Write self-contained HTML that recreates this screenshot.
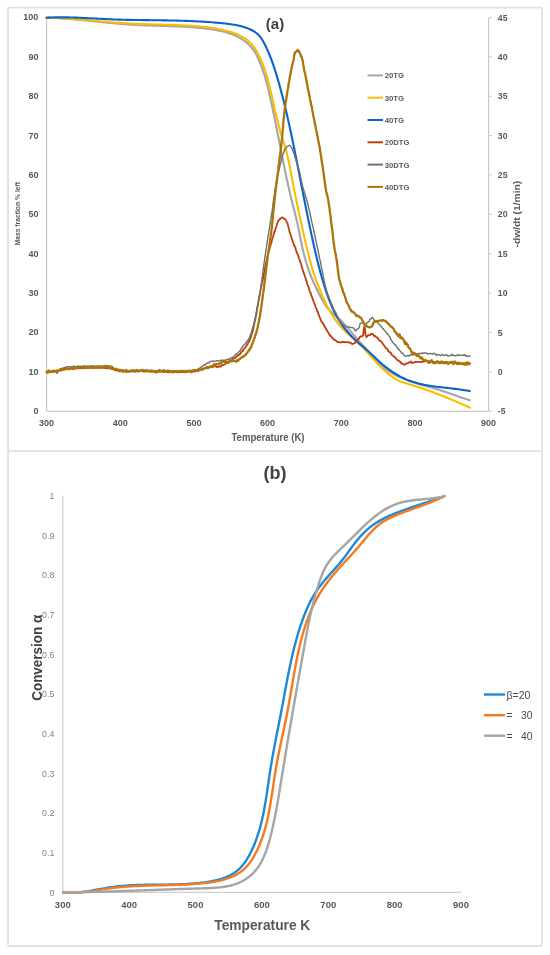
<!DOCTYPE html>
<html><head><meta charset="utf-8"><title>chart</title>
<style>
html,body{margin:0;padding:0;background:#fff;}
body{width:550px;height:955px;overflow:hidden;}
svg{display:block;}
text{font-family:'Liberation Sans', Arial, sans-serif;}
</style></head><body>
<svg width="550" height="955" viewBox="0 0 550 955">
<rect x="0" y="0" width="550" height="955" fill="#fff"/>

<rect x="8.1" y="7.6" width="533.9" height="443.4" rx="1.2" fill="none" stroke="#e2e2e2" stroke-width="1.8"/>
<rect x="8.1" y="451" width="533.9" height="495" rx="1.2" fill="none" stroke="#e2e2e2" stroke-width="1.8"/>
<line x1="46.6" y1="17.4" x2="46.6" y2="411.2" stroke="#c9c9c9" stroke-width="1.2"/>
<line x1="46.6" y1="411.4" x2="488.6" y2="411.4" stroke="#c9c9c9" stroke-width="1.2"/>
<line x1="488.6" y1="17.4" x2="488.6" y2="411.2" stroke="#c9c9c9" stroke-width="1.2"/>
<line x1="488.6" y1="17.4" x2="491.8" y2="17.4" stroke="#c9c9c9" stroke-width="1"/>
<line x1="488.6" y1="56.8" x2="491.8" y2="56.8" stroke="#c9c9c9" stroke-width="1"/>
<line x1="488.6" y1="96.2" x2="491.8" y2="96.2" stroke="#c9c9c9" stroke-width="1"/>
<line x1="488.6" y1="135.5" x2="491.8" y2="135.5" stroke="#c9c9c9" stroke-width="1"/>
<line x1="488.6" y1="174.9" x2="491.8" y2="174.9" stroke="#c9c9c9" stroke-width="1"/>
<line x1="488.6" y1="214.3" x2="491.8" y2="214.3" stroke="#c9c9c9" stroke-width="1"/>
<line x1="488.6" y1="253.7" x2="491.8" y2="253.7" stroke="#c9c9c9" stroke-width="1"/>
<line x1="488.6" y1="293.1" x2="491.8" y2="293.1" stroke="#c9c9c9" stroke-width="1"/>
<line x1="488.6" y1="332.4" x2="491.8" y2="332.4" stroke="#c9c9c9" stroke-width="1"/>
<line x1="488.6" y1="371.8" x2="491.8" y2="371.8" stroke="#c9c9c9" stroke-width="1"/>
<line x1="488.6" y1="411.2" x2="491.8" y2="411.2" stroke="#c9c9c9" stroke-width="1"/>
<text x="38.4" y="20.4" font-size="9" fill="#595959" text-anchor="end" font-weight="bold">100</text>
<text x="38.4" y="59.8" font-size="9" fill="#595959" text-anchor="end" font-weight="bold">90</text>
<text x="38.4" y="99.2" font-size="9" fill="#595959" text-anchor="end" font-weight="bold">80</text>
<text x="38.4" y="138.5" font-size="9" fill="#595959" text-anchor="end" font-weight="bold">70</text>
<text x="38.4" y="177.9" font-size="9" fill="#595959" text-anchor="end" font-weight="bold">60</text>
<text x="38.4" y="217.3" font-size="9" fill="#595959" text-anchor="end" font-weight="bold">50</text>
<text x="38.4" y="256.7" font-size="9" fill="#595959" text-anchor="end" font-weight="bold">40</text>
<text x="38.4" y="296.1" font-size="9" fill="#595959" text-anchor="end" font-weight="bold">30</text>
<text x="38.4" y="335.4" font-size="9" fill="#595959" text-anchor="end" font-weight="bold">20</text>
<text x="38.4" y="374.8" font-size="9" fill="#595959" text-anchor="end" font-weight="bold">10</text>
<text x="38.4" y="414.2" font-size="9" fill="#595959" text-anchor="end" font-weight="bold">0</text>
<text x="497.8" y="20.5" font-size="8.7" font-weight="bold" fill="#595959">45</text>
<text x="497.8" y="59.9" font-size="8.7" font-weight="bold" fill="#595959">40</text>
<text x="497.8" y="99.3" font-size="8.7" font-weight="bold" fill="#595959">35</text>
<text x="497.8" y="138.6" font-size="8.7" font-weight="bold" fill="#595959">30</text>
<text x="497.8" y="178.0" font-size="8.7" font-weight="bold" fill="#595959">25</text>
<text x="497.8" y="217.4" font-size="8.7" font-weight="bold" fill="#595959">20</text>
<text x="497.8" y="256.8" font-size="8.7" font-weight="bold" fill="#595959">15</text>
<text x="497.8" y="296.2" font-size="8.7" font-weight="bold" fill="#595959">10</text>
<text x="497.8" y="335.5" font-size="8.7" font-weight="bold" fill="#595959">5</text>
<text x="497.8" y="374.9" font-size="8.7" font-weight="bold" fill="#595959">0</text>
<text x="497.8" y="414.3" font-size="8.7" font-weight="bold" fill="#595959">-5</text>
<text x="46.6" y="425.9" font-size="9" font-weight="bold" fill="#595959" text-anchor="middle">300</text>
<text x="120.3" y="425.9" font-size="9" font-weight="bold" fill="#595959" text-anchor="middle">400</text>
<text x="193.9" y="425.9" font-size="9" font-weight="bold" fill="#595959" text-anchor="middle">500</text>
<text x="267.6" y="425.9" font-size="9" font-weight="bold" fill="#595959" text-anchor="middle">600</text>
<text x="341.3" y="425.9" font-size="9" font-weight="bold" fill="#595959" text-anchor="middle">700</text>
<text x="414.9" y="425.9" font-size="9" font-weight="bold" fill="#595959" text-anchor="middle">800</text>
<text x="488.6" y="425.9" font-size="9" font-weight="bold" fill="#595959" text-anchor="middle">900</text>
<text x="275" y="29" font-size="15" font-weight="bold" fill="#404040" text-anchor="middle">(a)</text>
<text x="268" y="441" font-size="10" font-weight="bold" fill="#595959" text-anchor="middle" textLength="73" lengthAdjust="spacingAndGlyphs">Temperature (K)</text>
<text transform="translate(19.9,213.7) rotate(-90)" font-size="6.6" font-weight="bold" fill="#595959" text-anchor="middle" textLength="63.5" lengthAdjust="spacingAndGlyphs">Mass fraction % left</text>
<text transform="translate(520.2,214.1) rotate(-90)" font-size="9.6" font-weight="bold" fill="#595959" text-anchor="middle" textLength="66.6" lengthAdjust="spacingAndGlyphs">-dw/dt (1/min)</text>
<g fill="none" stroke-linejoin="round" stroke-linecap="round">
<path d="M46.59,17.68 L48.24,17.72 L49.90,17.78 L51.55,17.84 L53.21,17.91 L54.86,17.99 L56.51,18.07 L58.16,18.17 L59.80,18.27 L61.45,18.37 L63.09,18.49 L64.74,18.61 L66.38,18.73 L68.02,18.86 L69.66,19.00 L71.31,19.14 L72.95,19.28 L74.59,19.43 L76.23,19.58 L77.86,19.74 L79.50,19.90 L81.14,20.06 L82.78,20.22 L84.42,20.38 L86.06,20.55 L87.70,20.72 L89.33,20.88 L90.97,21.05 L92.61,21.22 L94.25,21.39 L95.89,21.56 L97.54,21.72 L99.18,21.89 L100.82,22.05 L102.46,22.21 L104.11,22.37 L105.75,22.53 L107.39,22.69 L109.04,22.84 L110.68,23.00 L112.33,23.14 L113.98,23.29 L115.62,23.44 L117.27,23.58 L118.91,23.72 L120.56,23.85 L122.21,23.98 L123.86,24.11 L125.50,24.23 L127.15,24.35 L128.80,24.47 L130.44,24.58 L132.09,24.69 L133.74,24.79 L135.38,24.89 L137.03,24.98 L138.68,25.07 L140.32,25.16 L141.97,25.23 L143.62,25.31 L145.26,25.38 L146.91,25.44 L148.55,25.50 L150.20,25.56 L151.84,25.62 L153.49,25.67 L155.13,25.72 L156.77,25.77 L158.42,25.82 L160.06,25.86 L161.71,25.91 L163.35,25.96 L164.99,26.01 L166.64,26.06 L168.28,26.11 L169.93,26.16 L171.57,26.21 L173.21,26.27 L174.86,26.33 L176.50,26.39 L178.14,26.46 L179.79,26.53 L181.43,26.61 L183.08,26.69 L184.72,26.78 L186.37,26.87 L188.01,26.97 L189.66,27.08 L191.30,27.19 L192.95,27.31 L194.59,27.44 L196.24,27.58 L197.89,27.73 L199.53,27.89 L201.18,28.05 L202.83,28.23 L204.47,28.41 L206.12,28.61 L207.77,28.82 L209.42,29.04 L211.07,29.27 L212.72,29.52 L214.36,29.78 L216.01,30.06 L217.65,30.35 L219.29,30.67 L220.92,31.01 L222.54,31.38 L224.15,31.77 L225.75,32.19 L227.34,32.64 L228.91,33.13 L230.47,33.65 L232.02,34.21 L233.54,34.81 L235.04,35.44 L236.53,36.13 L237.99,36.85 L239.43,37.63 L240.84,38.45 L242.23,39.33 L243.59,40.25 L244.91,41.23 L246.21,42.26 L247.46,43.33 L248.67,44.45 L249.83,45.62 L250.95,46.83 L252.02,48.09 L253.03,49.39 L253.99,50.73 L254.89,52.12 L255.73,53.54 L256.51,54.99 L257.26,56.47 L257.97,57.96 L258.65,59.47 L259.31,60.98 L259.94,62.51 L260.56,64.04 L261.16,65.58 L261.74,67.12 L262.30,68.67 L262.84,70.23 L263.36,71.79 L263.87,73.36 L264.37,74.94 L264.85,76.51 L265.32,78.10 L265.77,79.69 L266.21,81.28 L266.64,82.87 L267.07,84.47 L267.48,86.07 L267.88,87.67 L268.27,89.28 L268.66,90.89 L269.04,92.49 L269.41,94.10 L269.78,95.72 L270.15,97.33 L270.51,98.94 L270.87,100.55 L271.22,102.17 L271.57,103.78 L271.92,105.39 L272.27,107.00 L272.61,108.62 L272.95,110.23 L273.29,111.84 L273.63,113.46 L273.96,115.07 L274.30,116.69 L274.63,118.30 L274.96,119.92 L275.28,121.53 L275.61,123.15 L275.93,124.76 L276.26,126.38 L276.58,127.99 L276.90,129.61 L277.22,131.22 L277.54,132.84 L277.85,134.46 L278.17,136.07 L278.49,137.69 L278.80,139.31 L279.12,140.93 L279.44,142.54 L279.75,144.16 L280.07,145.78 L280.38,147.40 L280.70,149.02 L281.02,150.63 L281.34,152.25 L281.65,153.87 L281.97,155.49 L282.29,157.11 L282.61,158.73 L282.94,160.34 L283.26,161.96 L283.58,163.58 L283.91,165.20 L284.24,166.81 L284.57,168.43 L284.90,170.05 L285.24,171.66 L285.57,173.28 L285.91,174.89 L286.25,176.51 L286.60,178.12 L286.95,179.73 L287.30,181.35 L287.65,182.96 L288.00,184.57 L288.36,186.18 L288.73,187.79 L289.09,189.40 L289.46,191.00 L289.84,192.61 L290.21,194.22 L290.60,195.82 L290.98,197.42 L291.37,199.03 L291.77,200.63 L292.17,202.23 L292.57,203.83 L292.97,205.43 L293.37,207.03 L293.78,208.62 L294.18,210.22 L294.59,211.82 L294.99,213.42 L295.39,215.02 L295.78,216.62 L296.18,218.22 L296.56,219.83 L296.94,221.43 L297.31,223.04 L297.68,224.65 L298.04,226.26 L298.39,227.87 L298.72,229.49 L299.05,231.10 L299.37,232.72 L299.68,234.35 L299.99,235.97 L300.30,237.59 L300.61,239.21 L300.93,240.83 L301.26,242.45 L301.60,244.07 L301.94,245.68 L302.29,247.29 L302.66,248.90 L303.03,250.50 L303.42,252.10 L303.81,253.70 L304.22,255.30 L304.64,256.89 L305.07,258.48 L305.52,260.06 L305.98,261.64 L306.45,263.22 L306.94,264.79 L307.44,266.36 L307.95,267.92 L308.48,269.48 L309.03,271.04 L309.59,272.59 L310.16,274.13 L310.76,275.67 L311.37,277.20 L312.00,278.73 L312.65,280.25 L313.31,281.77 L313.99,283.28 L314.69,284.79 L315.39,286.29 L316.11,287.79 L316.84,289.29 L317.57,290.79 L318.31,292.28 L319.06,293.77 L319.81,295.25 L320.58,296.73 L321.35,298.20 L322.15,299.65 L322.97,301.09 L323.81,302.50 L324.68,303.89 L325.59,305.25 L326.53,306.58 L327.52,307.87 L328.55,309.12 L329.64,310.32 L330.77,311.48 L331.95,312.60 L333.16,313.70 L334.39,314.77 L335.63,315.84 L336.88,316.91 L338.12,317.99 L339.34,319.09 L340.53,320.21 L341.71,321.36 L342.86,322.53 L343.99,323.72 L345.11,324.93 L346.21,326.15 L347.30,327.39 L348.38,328.63 L349.45,329.89 L350.52,331.14 L351.58,332.41 L352.64,333.67 L353.70,334.93 L354.77,336.19 L355.84,337.44 L356.91,338.69 L358.00,339.92 L359.09,341.15 L360.19,342.37 L361.29,343.59 L362.40,344.80 L363.51,346.01 L364.62,347.23 L365.73,348.44 L366.83,349.66 L367.94,350.89 L369.04,352.13 L370.13,353.37 L371.22,354.63 L372.31,355.89 L373.40,357.16 L374.49,358.42 L375.60,359.67 L376.71,360.90 L377.85,362.11 L379.01,363.29 L380.19,364.44 L381.41,365.55 L382.65,366.62 L383.92,367.66 L385.21,368.66 L386.53,369.62 L387.87,370.56 L389.24,371.46 L390.63,372.32 L392.03,373.16 L393.46,373.97 L394.90,374.75 L396.36,375.50 L397.84,376.23 L399.33,376.93 L400.83,377.60 L402.35,378.26 L403.88,378.89 L405.41,379.50 L406.96,380.08 L408.51,380.65 L410.07,381.21 L411.63,381.74 L413.20,382.26 L414.77,382.76 L416.35,383.25 L417.92,383.73 L419.51,384.20 L421.09,384.67 L422.67,385.13 L424.26,385.58 L425.85,386.03 L427.44,386.48 L429.02,386.92 L430.61,387.37 L432.20,387.83 L433.78,388.28 L435.36,388.75 L436.94,389.22 L438.52,389.70 L440.10,390.19 L441.67,390.70 L443.23,391.21 L444.80,391.74 L446.36,392.27 L447.92,392.81 L449.48,393.36 L451.03,393.90 L452.59,394.45 L454.14,395.00 L455.70,395.55 L457.26,396.10 L458.82,396.64 L460.38,397.17 L461.94,397.70 L463.51,398.22 L465.08,398.72 L466.65,399.22 L468.23,399.70 L469.81,400.17" stroke="#a5a5a5" stroke-width="2.1"/>
<path d="M46.58,17.67 L48.26,17.70 L49.93,17.73 L51.60,17.78 L53.27,17.83 L54.94,17.89 L56.60,17.96 L58.27,18.04 L59.93,18.12 L61.59,18.21 L63.26,18.31 L64.92,18.41 L66.58,18.52 L68.23,18.64 L69.89,18.76 L71.55,18.89 L73.20,19.02 L74.86,19.15 L76.52,19.29 L78.17,19.43 L79.82,19.57 L81.48,19.72 L83.13,19.87 L84.79,20.02 L86.44,20.17 L88.09,20.32 L89.74,20.47 L91.40,20.63 L93.05,20.78 L94.70,20.93 L96.36,21.08 L98.01,21.23 L99.67,21.38 L101.32,21.53 L102.98,21.67 L104.63,21.82 L106.29,21.95 L107.95,22.09 L109.61,22.22 L111.27,22.34 L112.93,22.47 L114.59,22.58 L116.25,22.70 L117.91,22.81 L119.58,22.91 L121.24,23.01 L122.90,23.11 L124.57,23.20 L126.23,23.29 L127.90,23.38 L129.57,23.46 L131.23,23.54 L132.90,23.62 L134.57,23.70 L136.24,23.77 L137.90,23.84 L139.57,23.91 L141.24,23.97 L142.91,24.04 L144.57,24.10 L146.24,24.16 L147.91,24.22 L149.57,24.27 L151.24,24.33 L152.91,24.38 L154.57,24.44 L156.24,24.49 L157.90,24.54 L159.56,24.59 L161.23,24.64 L162.89,24.69 L164.55,24.74 L166.21,24.79 L167.87,24.84 L169.53,24.89 L171.18,24.94 L172.84,24.99 L174.50,25.05 L176.15,25.10 L177.81,25.16 L179.46,25.22 L181.11,25.28 L182.76,25.35 L184.41,25.42 L186.06,25.50 L187.72,25.59 L189.37,25.68 L191.02,25.78 L192.66,25.89 L194.31,26.01 L195.96,26.13 L197.61,26.27 L199.26,26.41 L200.91,26.57 L202.56,26.74 L204.21,26.92 L205.86,27.11 L207.51,27.32 L209.17,27.54 L210.82,27.78 L212.47,28.03 L214.12,28.30 L215.78,28.58 L217.43,28.88 L219.09,29.20 L220.75,29.54 L222.40,29.89 L224.06,30.27 L225.72,30.67 L227.37,31.09 L229.01,31.54 L230.63,32.02 L232.25,32.53 L233.84,33.07 L235.42,33.66 L236.97,34.28 L238.49,34.94 L239.99,35.64 L241.45,36.39 L242.88,37.19 L244.27,38.04 L245.62,38.94 L246.92,39.90 L248.17,40.91 L249.38,41.98 L250.54,43.12 L251.64,44.30 L252.70,45.55 L253.71,46.84 L254.68,48.17 L255.60,49.55 L256.49,50.96 L257.34,52.41 L258.15,53.88 L258.92,55.38 L259.67,56.91 L260.38,58.45 L261.07,60.00 L261.73,61.57 L262.36,63.15 L262.98,64.72 L263.57,66.30 L264.14,67.88 L264.69,69.47 L265.22,71.05 L265.73,72.64 L266.23,74.23 L266.71,75.82 L267.18,77.42 L267.63,79.01 L268.07,80.61 L268.49,82.21 L268.91,83.81 L269.31,85.42 L269.71,87.02 L270.10,88.63 L270.48,90.24 L270.85,91.85 L271.22,93.46 L271.59,95.07 L271.95,96.68 L272.31,98.30 L272.66,99.91 L273.02,101.53 L273.37,103.15 L273.73,104.77 L274.09,106.39 L274.45,108.01 L274.82,109.63 L275.19,111.25 L275.57,112.88 L275.95,114.50 L276.34,116.12 L276.73,117.75 L277.13,119.37 L277.54,120.99 L277.95,122.61 L278.37,124.22 L278.79,125.84 L279.23,127.45 L279.67,129.06 L280.11,130.66 L280.57,132.27 L281.03,133.86 L281.50,135.46 L281.98,137.05 L282.47,138.63 L282.97,140.21 L283.47,141.78 L283.97,143.35 L284.48,144.92 L284.97,146.50 L285.44,148.08 L285.90,149.66 L286.33,151.26 L286.76,152.85 L287.16,154.46 L287.55,156.07 L287.93,157.68 L288.29,159.30 L288.64,160.92 L288.98,162.54 L289.32,164.17 L289.64,165.80 L289.96,167.44 L290.27,169.07 L290.58,170.71 L290.89,172.35 L291.19,173.99 L291.49,175.63 L291.79,177.27 L292.10,178.91 L292.40,180.55 L292.71,182.19 L293.02,183.82 L293.34,185.46 L293.66,187.09 L293.99,188.72 L294.31,190.36 L294.64,191.99 L294.97,193.62 L295.31,195.25 L295.64,196.88 L295.98,198.51 L296.31,200.13 L296.65,201.76 L296.99,203.39 L297.33,205.02 L297.67,206.65 L298.01,208.27 L298.35,209.90 L298.69,211.53 L299.03,213.16 L299.38,214.78 L299.73,216.41 L300.07,218.03 L300.42,219.66 L300.78,221.29 L301.13,222.91 L301.48,224.53 L301.84,226.16 L302.20,227.78 L302.56,229.41 L302.92,231.03 L303.29,232.65 L303.66,234.27 L304.03,235.89 L304.40,237.51 L304.78,239.13 L305.16,240.75 L305.54,242.37 L305.92,243.99 L306.31,245.61 L306.70,247.23 L307.09,248.84 L307.49,250.46 L307.89,252.07 L308.29,253.69 L308.70,255.30 L309.11,256.92 L309.53,258.53 L309.95,260.14 L310.37,261.75 L310.80,263.36 L311.23,264.97 L311.68,266.58 L312.13,268.18 L312.60,269.77 L313.07,271.37 L313.57,272.96 L314.08,274.54 L314.60,276.11 L315.15,277.68 L315.71,279.24 L316.29,280.80 L316.89,282.34 L317.50,283.89 L318.12,285.42 L318.75,286.96 L319.38,288.49 L320.02,290.02 L320.65,291.54 L321.29,293.07 L321.93,294.59 L322.58,296.11 L323.24,297.63 L323.91,299.15 L324.59,300.66 L325.30,302.18 L326.01,303.68 L326.75,305.19 L327.50,306.69 L328.27,308.17 L329.06,309.65 L329.88,311.12 L330.71,312.58 L331.56,314.02 L332.44,315.45 L333.34,316.86 L334.26,318.26 L335.21,319.63 L336.18,320.98 L337.18,322.31 L338.20,323.62 L339.25,324.90 L340.33,326.16 L341.43,327.39 L342.56,328.59 L343.71,329.78 L344.88,330.94 L346.07,332.09 L347.28,333.23 L348.49,334.35 L349.72,335.47 L350.95,336.57 L352.19,337.68 L353.43,338.78 L354.68,339.89 L355.92,341.00 L357.15,342.12 L358.38,343.24 L359.60,344.38 L360.81,345.53 L362.00,346.69 L363.18,347.88 L364.34,349.08 L365.50,350.29 L366.64,351.52 L367.77,352.75 L368.90,354.00 L370.02,355.24 L371.14,356.49 L372.25,357.75 L373.37,359.00 L374.49,360.24 L375.61,361.49 L376.74,362.72 L377.87,363.94 L379.02,365.16 L380.17,366.36 L381.34,367.54 L382.52,368.70 L383.72,369.85 L384.93,370.97 L386.16,372.07 L387.42,373.14 L388.70,374.18 L390.00,375.19 L391.33,376.17 L392.69,377.11 L394.07,378.00 L395.48,378.86 L396.92,379.66 L398.39,380.41 L399.88,381.10 L401.41,381.73 L402.96,382.31 L404.53,382.85 L406.12,383.35 L407.71,383.84 L409.31,384.32 L410.91,384.80 L412.51,385.29 L414.10,385.78 L415.69,386.28 L417.28,386.79 L418.86,387.31 L420.44,387.83 L422.02,388.36 L423.60,388.89 L425.17,389.44 L426.74,389.99 L428.31,390.54 L429.88,391.10 L431.44,391.67 L433.00,392.24 L434.56,392.82 L436.11,393.41 L437.67,394.00 L439.22,394.60 L440.77,395.20 L442.32,395.81 L443.86,396.43 L445.40,397.05 L446.94,397.68 L448.48,398.31 L450.01,398.95 L451.55,399.60 L453.08,400.25 L454.61,400.90 L456.13,401.56 L457.66,402.23 L459.18,402.90 L460.70,403.58 L462.22,404.26 L463.74,404.94 L465.25,405.64 L466.77,406.33 L468.28,407.03 L469.79,407.74" stroke="#fcbc00" stroke-width="2.1"/>
<path d="M46.58,17.76 L48.27,17.67 L49.95,17.59 L51.63,17.52 L53.31,17.46 L54.99,17.42 L56.67,17.38 L58.35,17.36 L60.02,17.34 L61.70,17.34 L63.37,17.34 L65.05,17.35 L66.72,17.38 L68.39,17.40 L70.07,17.44 L71.74,17.48 L73.41,17.53 L75.08,17.59 L76.75,17.65 L78.42,17.72 L80.09,17.79 L81.76,17.86 L83.43,17.94 L85.10,18.02 L86.76,18.11 L88.43,18.19 L90.10,18.28 L91.77,18.37 L93.44,18.46 L95.11,18.55 L96.78,18.64 L98.45,18.73 L100.11,18.82 L101.78,18.91 L103.45,19.00 L105.12,19.08 L106.80,19.16 L108.47,19.24 L110.14,19.31 L111.81,19.38 L113.48,19.45 L115.16,19.51 L116.83,19.57 L118.51,19.62 L120.18,19.67 L121.86,19.72 L123.53,19.76 L125.21,19.80 L126.88,19.84 L128.56,19.88 L130.24,19.91 L131.91,19.94 L133.59,19.97 L135.27,20.00 L136.95,20.02 L138.62,20.05 L140.30,20.07 L141.98,20.09 L143.65,20.11 L145.33,20.13 L147.01,20.15 L148.68,20.17 L150.36,20.19 L152.03,20.21 L153.71,20.22 L155.38,20.24 L157.06,20.26 L158.73,20.28 L160.41,20.31 L162.08,20.33 L163.75,20.35 L165.42,20.38 L167.10,20.41 L168.77,20.43 L170.44,20.47 L172.10,20.50 L173.77,20.53 L175.44,20.57 L177.11,20.61 L178.77,20.66 L180.44,20.70 L182.11,20.75 L183.77,20.81 L185.44,20.86 L187.10,20.92 L188.77,20.98 L190.43,21.05 L192.10,21.12 L193.77,21.20 L195.43,21.27 L197.10,21.36 L198.77,21.45 L200.43,21.54 L202.10,21.63 L203.77,21.73 L205.44,21.84 L207.11,21.95 L208.78,22.07 L210.46,22.19 L212.13,22.32 L213.80,22.45 L215.48,22.59 L217.16,22.73 L218.84,22.88 L220.52,23.04 L222.20,23.20 L223.88,23.37 L225.56,23.55 L227.24,23.75 L228.92,23.95 L230.60,24.18 L232.27,24.43 L233.93,24.70 L235.59,24.99 L237.24,25.32 L238.87,25.67 L240.50,26.06 L242.11,26.49 L243.71,26.96 L245.30,27.47 L246.86,28.03 L248.41,28.63 L249.94,29.29 L251.45,30.00 L252.92,30.77 L254.34,31.61 L255.70,32.53 L257.00,33.53 L258.22,34.62 L259.35,35.80 L260.39,37.07 L261.36,38.42 L262.26,39.83 L263.11,41.28 L263.91,42.77 L264.69,44.28 L265.45,45.80 L266.18,47.32 L266.90,48.85 L267.59,50.38 L268.27,51.92 L268.93,53.47 L269.58,55.02 L270.20,56.58 L270.82,58.15 L271.41,59.71 L272.00,61.29 L272.57,62.87 L273.12,64.45 L273.67,66.03 L274.20,67.62 L274.72,69.22 L275.23,70.81 L275.74,72.41 L276.23,74.02 L276.71,75.62 L277.19,77.23 L277.66,78.83 L278.13,80.44 L278.59,82.05 L279.05,83.67 L279.50,85.28 L279.94,86.89 L280.38,88.51 L280.82,90.12 L281.25,91.74 L281.68,93.36 L282.10,94.98 L282.52,96.60 L282.94,98.22 L283.35,99.84 L283.76,101.46 L284.16,103.08 L284.56,104.71 L284.96,106.33 L285.35,107.96 L285.74,109.58 L286.13,111.21 L286.51,112.84 L286.89,114.47 L287.27,116.09 L287.64,117.72 L288.01,119.36 L288.38,120.99 L288.75,122.62 L289.11,124.25 L289.47,125.88 L289.82,127.52 L290.18,129.15 L290.53,130.79 L290.88,132.42 L291.23,134.06 L291.58,135.69 L291.92,137.33 L292.26,138.97 L292.60,140.60 L292.94,142.24 L293.28,143.88 L293.61,145.52 L293.94,147.16 L294.28,148.80 L294.61,150.44 L294.93,152.08 L295.26,153.72 L295.59,155.36 L295.92,157.00 L296.24,158.64 L296.56,160.28 L296.89,161.93 L297.21,163.57 L297.53,165.21 L297.85,166.85 L298.17,168.50 L298.50,170.14 L298.82,171.78 L299.14,173.42 L299.46,175.07 L299.78,176.71 L300.10,178.35 L300.42,180.00 L300.74,181.64 L301.06,183.28 L301.38,184.93 L301.70,186.57 L302.02,188.21 L302.34,189.86 L302.67,191.50 L302.99,193.14 L303.32,194.79 L303.64,196.43 L303.97,198.07 L304.29,199.72 L304.62,201.36 L304.95,203.00 L305.28,204.64 L305.60,206.28 L305.94,207.93 L306.27,209.57 L306.60,211.21 L306.93,212.85 L307.27,214.49 L307.60,216.13 L307.94,217.77 L308.28,219.41 L308.62,221.05 L308.96,222.69 L309.30,224.33 L309.64,225.97 L309.99,227.60 L310.33,229.24 L310.68,230.88 L311.03,232.51 L311.38,234.15 L311.74,235.79 L312.09,237.42 L312.45,239.06 L312.80,240.69 L313.16,242.32 L313.52,243.96 L313.89,245.59 L314.25,247.22 L314.62,248.85 L315.00,250.48 L315.37,252.11 L315.75,253.74 L316.13,255.36 L316.52,256.99 L316.91,258.62 L317.31,260.24 L317.71,261.86 L318.11,263.49 L318.52,265.11 L318.93,266.73 L319.36,268.35 L319.78,269.96 L320.21,271.58 L320.65,273.19 L321.10,274.81 L321.55,276.42 L322.01,278.03 L322.47,279.64 L322.95,281.24 L323.43,282.85 L323.91,284.45 L324.41,286.05 L324.92,287.65 L325.43,289.25 L325.95,290.85 L326.48,292.44 L327.03,294.03 L327.58,295.62 L328.15,297.20 L328.73,298.77 L329.32,300.34 L329.93,301.91 L330.56,303.46 L331.20,305.01 L331.86,306.55 L332.54,308.08 L333.24,309.59 L333.96,311.10 L334.70,312.60 L335.47,314.08 L336.26,315.55 L337.07,317.00 L337.91,318.45 L338.78,319.87 L339.67,321.28 L340.59,322.67 L341.53,324.05 L342.50,325.41 L343.49,326.76 L344.51,328.09 L345.55,329.40 L346.61,330.69 L347.70,331.97 L348.80,333.23 L349.92,334.47 L351.07,335.70 L352.23,336.91 L353.41,338.10 L354.61,339.27 L355.82,340.42 L357.05,341.56 L358.30,342.67 L359.55,343.78 L360.82,344.87 L362.09,345.96 L363.36,347.05 L364.64,348.13 L365.91,349.22 L367.18,350.31 L368.43,351.41 L369.68,352.53 L370.92,353.66 L372.14,354.81 L373.35,355.96 L374.56,357.12 L375.77,358.28 L376.99,359.44 L378.21,360.59 L379.44,361.73 L380.69,362.86 L381.96,363.96 L383.24,365.05 L384.54,366.12 L385.85,367.16 L387.18,368.19 L388.53,369.19 L389.89,370.17 L391.27,371.13 L392.66,372.06 L394.07,372.97 L395.49,373.85 L396.92,374.70 L398.37,375.53 L399.83,376.33 L401.31,377.09 L402.80,377.83 L404.31,378.54 L405.82,379.22 L407.35,379.86 L408.89,380.48 L410.45,381.05 L412.01,381.60 L413.59,382.11 L415.18,382.59 L416.78,383.04 L418.39,383.47 L420.01,383.86 L421.63,384.24 L423.27,384.59 L424.91,384.91 L426.55,385.22 L428.21,385.51 L429.87,385.78 L431.53,386.04 L433.20,386.28 L434.87,386.51 L436.54,386.73 L438.22,386.94 L439.90,387.14 L441.58,387.33 L443.26,387.52 L444.94,387.71 L446.62,387.89 L448.30,388.08 L449.97,388.26 L451.65,388.45 L453.32,388.64 L454.98,388.84 L456.65,389.05 L458.30,389.26 L459.96,389.49 L461.60,389.72 L463.24,389.97 L464.87,390.24 L466.50,390.52 L468.11,390.82 L469.72,391.14" stroke="#0a66c6" stroke-width="2.1"/>
<path d="M46.60,371.80 L47.66,371.59 L48.72,371.46 L49.79,371.73 L50.85,371.90 L51.91,372.08 L52.96,371.79 L53.99,371.56 L55.00,371.40 L56.03,371.63 L57.04,371.64 L58.02,371.05 L59.00,370.42 L59.98,370.22 L60.98,370.62 L62.00,370.05 L62.95,369.39 L63.90,369.63 L64.85,369.20 L65.80,369.18 L66.79,369.07 L67.81,368.87 L68.87,369.06 L70.00,368.78 L70.86,368.57 L71.76,368.74 L72.70,368.78 L73.66,368.09 L74.65,368.38 L75.66,368.14 L76.69,368.28 L77.72,367.96 L78.77,368.24 L79.82,368.18 L80.88,368.07 L81.92,367.84 L82.96,367.97 L83.99,367.76 L85.00,367.66 L86.01,368.02 L87.02,367.66 L88.05,368.20 L89.08,368.06 L90.11,367.36 L91.14,367.91 L92.18,367.55 L93.20,367.82 L94.22,367.81 L95.22,367.29 L96.22,367.72 L97.19,367.72 L98.15,368.02 L99.09,367.49 L100.00,367.98 L101.09,367.53 L102.17,367.72 L103.24,367.59 L104.28,368.17 L105.30,367.95 L106.30,368.44 L107.27,368.04 L108.21,368.16 L109.12,368.27 L110.00,368.05 L111.10,368.45 L112.12,369.16 L113.10,369.12 L114.05,369.67 L115.01,369.99 L116.00,370.45 L116.95,370.44 L117.87,370.70 L118.79,370.97 L119.75,371.09 L120.81,370.97 L122.00,371.52 L122.74,371.03 L123.52,371.10 L124.32,371.11 L125.16,371.69 L126.02,371.37 L126.91,371.22 L127.84,371.18 L128.79,371.56 L129.77,371.18 L130.78,371.11 L131.83,371.56 L132.90,371.09 L134.01,371.29 L135.14,371.35 L136.31,371.22 L137.51,371.30 L138.74,371.64 L140.00,371.17 L140.74,370.98 L141.51,370.84 L142.31,371.26 L143.14,371.23 L143.99,371.39 L144.87,371.23 L145.78,371.24 L146.71,371.20 L147.66,371.27 L148.63,371.46 L149.62,371.34 L150.64,371.49 L151.67,371.96 L152.71,371.63 L153.77,371.15 L154.85,372.00 L155.94,371.68 L157.04,371.39 L158.15,371.88 L159.27,371.69 L160.40,371.55 L161.54,371.58 L162.68,371.51 L163.82,371.80 L164.97,372.08 L166.13,371.75 L167.28,371.96 L168.44,372.34 L169.59,371.59 L170.74,371.97 L171.89,371.85 L173.03,371.67 L174.17,371.69 L175.30,371.94 L176.42,372.06 L177.53,371.82 L178.63,371.96 L179.72,372.12 L180.80,372.00 L181.86,372.13 L182.91,372.01 L183.94,371.99 L184.96,372.30 L185.95,371.97 L186.93,371.81 L187.88,371.91 L188.81,371.46 L189.72,371.55 L190.60,371.78 L191.46,371.67 L192.29,371.83 L193.09,371.37 L193.87,370.92 L194.61,371.68 L195.32,371.38 L196.00,370.74 L197.31,371.10 L198.54,370.48 L199.70,369.69 L200.79,369.65 L201.82,369.24 L202.80,369.59 L203.75,368.37 L204.67,368.17 L205.56,367.79 L206.44,367.40 L207.32,366.89 L208.19,367.00 L209.09,367.06 L210.00,366.72 L211.05,366.05 L212.08,365.94 L213.08,366.41 L214.07,366.19 L215.05,366.31 L216.02,366.02 L217.00,367.33 L217.98,366.94 L218.98,366.18 L220.00,366.62 L220.86,366.51 L221.74,364.88 L222.63,365.15 L223.53,364.78 L224.45,364.68 L225.37,363.92 L226.29,363.35 L227.20,362.86 L228.11,362.96 L229.01,362.49 L229.89,360.97 L230.75,360.25 L231.60,360.94 L232.41,359.10 L233.20,358.70 L234.10,358.29 L234.98,357.83 L235.83,357.41 L236.66,356.57 L237.47,355.50 L238.26,355.35 L239.04,354.60 L239.80,354.49 L240.54,353.12 L241.28,351.91 L242.00,351.23 L242.66,351.35 L243.32,349.87 L243.96,348.52 L244.60,348.23 L245.22,347.58 L245.82,347.13 L246.41,345.47 L246.99,345.14 L247.55,344.25 L248.09,342.77 L248.61,341.96 L249.12,341.65 L249.60,340.60 L249.97,339.45 L250.33,338.38 L250.67,337.75 L251.00,336.36 L251.32,335.42 L251.62,334.17 L251.91,333.48 L252.19,332.44 L252.46,332.43 L252.72,330.37 L252.98,329.86 L253.22,328.85 L253.46,327.30 L253.70,326.76 L253.92,324.59 L254.15,324.39 L254.37,323.69 L254.58,321.59 L254.80,321.09 L255.05,320.79 L255.28,319.27 L255.49,317.92 L255.70,317.14 L255.89,316.06 L256.07,315.49 L256.25,314.38 L256.43,313.11 L256.60,311.97 L256.77,311.16 L256.95,310.62 L257.13,309.24 L257.31,308.29 L257.50,306.95 L257.67,305.58 L257.85,304.80 L258.02,304.29 L258.19,303.09 L258.37,301.73 L258.54,300.47 L258.71,300.05 L258.89,298.87 L259.06,297.84 L259.24,296.83 L259.42,296.03 L259.59,295.02 L259.77,294.25 L259.95,293.24 L260.13,292.40 L260.32,291.24 L260.50,289.88 L260.71,288.94 L260.92,288.10 L261.13,286.81 L261.34,286.10 L261.56,285.32 L261.77,283.65 L261.99,282.32 L262.21,282.38 L262.43,280.99 L262.64,280.24 L262.86,278.54 L263.07,278.62 L263.29,277.27 L263.50,275.96 L263.70,274.89 L263.90,274.06 L264.10,272.97 L264.29,271.93 L264.48,270.63 L264.68,270.45 L264.87,268.99 L265.07,268.02 L265.26,267.02 L265.46,265.15 L265.66,265.16 L265.86,263.86 L266.07,262.87 L266.28,262.01 L266.50,260.66 L266.73,260.27 L266.97,258.71 L267.21,257.60 L267.46,256.59 L267.71,255.91 L267.96,255.09 L268.21,253.61 L268.47,252.27 L268.72,252.17 L268.98,250.43 L269.24,250.25 L269.49,248.85 L269.75,247.68 L270.00,246.78 L270.30,246.09 L270.60,245.20 L270.90,243.80 L271.20,243.21 L271.50,242.62 L271.80,240.84 L272.10,239.54 L272.40,238.60 L272.70,237.51 L273.00,236.78 L273.30,235.74 L273.59,234.50 L273.89,234.11 L274.18,231.98 L274.47,231.39 L274.77,231.54 L275.07,230.19 L275.37,229.04 L275.68,228.07 L276.00,227.62 L276.37,226.15 L276.74,224.96 L277.11,223.50 L277.49,222.94 L277.89,221.81 L278.33,220.99 L278.80,220.25 L279.49,219.59 L280.23,218.68 L281.01,218.47 L281.80,217.34 L283.23,217.80 L284.60,219.15 L285.29,219.14 L285.91,220.37 L286.48,221.32 L287.00,222.46 L287.33,223.08 L287.61,223.23 L287.86,224.59 L288.09,225.56 L288.32,226.21 L288.55,227.67 L288.81,228.48 L289.10,229.42 L289.37,231.00 L289.65,231.85 L289.93,232.56 L290.23,233.43 L290.53,234.54 L290.84,235.58 L291.17,236.59 L291.50,237.74 L291.86,238.66 L292.22,240.03 L292.60,241.18 L292.90,241.99 L293.22,242.52 L293.56,243.45 L293.90,244.76 L294.26,245.49 L294.63,246.51 L295.00,246.64 L295.39,247.56 L295.77,249.63 L296.16,250.64 L296.55,252.02 L296.94,252.80 L297.33,253.64 L297.71,254.58 L298.09,255.08 L298.45,256.89 L298.81,257.36 L299.16,258.72 L299.50,259.57 L299.84,260.59 L300.17,261.79 L300.50,262.29 L300.82,263.31 L301.14,264.12 L301.45,265.26 L301.75,266.95 L302.06,267.21 L302.36,268.72 L302.66,269.56 L302.96,270.49 L303.26,271.47 L303.56,271.80 L303.87,273.25 L304.18,274.63 L304.49,274.79 L304.80,275.98 L305.13,276.77 L305.46,278.12 L305.79,278.63 L306.12,280.57 L306.45,280.88 L306.78,281.46 L307.11,283.63 L307.45,284.33 L307.78,285.17 L308.12,286.17 L308.46,286.85 L308.80,287.90 L309.14,289.23 L309.49,290.30 L309.84,291.32 L310.20,292.07 L310.53,292.78 L310.87,293.82 L311.21,295.23 L311.56,296.31 L311.91,296.66 L312.26,297.58 L312.62,299.16 L312.97,299.95 L313.33,300.91 L313.69,301.17 L314.05,302.46 L314.41,303.36 L314.76,304.56 L315.12,304.83 L315.47,306.78 L315.81,307.35 L316.16,308.28 L316.50,308.59 L316.90,310.00 L317.29,311.49 L317.69,311.48 L318.08,313.14 L318.47,314.27 L318.86,314.75 L319.25,316.24 L319.64,316.76 L320.02,318.21 L320.40,318.83 L320.77,319.55 L321.14,320.96 L321.50,321.29 L322.12,322.61 L322.73,322.74 L323.32,323.87 L323.91,325.31 L324.50,326.32 L325.00,326.88 L325.47,328.09 L325.95,328.37 L326.43,329.74 L326.95,330.18 L327.50,331.62 L328.05,332.18 L328.62,333.00 L329.22,334.11 L329.84,335.59 L330.48,335.43 L331.13,336.36 L331.80,337.67 L332.67,338.00 L333.57,339.57 L334.50,339.76 L335.44,340.37 L336.40,341.02 L337.50,342.05 L338.62,342.12 L339.76,342.39 L340.90,342.49 L342.04,341.81 L343.20,341.83 L344.35,342.41 L345.50,342.09 L346.66,342.08 L347.84,342.32 L348.97,342.19 L350.00,342.82 L350.97,342.92 L351.85,343.97 L352.70,343.85 L353.88,343.55 L355.00,342.86 L355.78,341.77 L356.52,341.16 L357.30,340.16 L358.17,339.19 L359.07,338.60 L360.00,336.78 L360.94,336.18 L361.91,336.46 L362.70,335.83 L363.07,335.34 L363.30,333.80 L363.44,332.59 L363.54,330.75 L363.64,330.18 L363.80,329.24 L364.16,327.30 L364.50,326.69 L364.65,327.29 L364.78,328.28 L364.89,328.31 L365.00,330.68 L365.13,332.02 L365.30,332.94 L365.52,334.31 L365.76,335.63 L366.06,336.14 L366.50,337.15 L367.21,336.57 L368.07,335.41 L369.00,335.07 L369.96,335.18 L370.99,333.96 L372.00,333.92 L373.01,334.22 L374.00,336.01 L375.00,335.91 L375.79,336.63 L376.59,337.16 L377.39,337.96 L378.20,338.45 L379.00,340.06 L379.80,340.88 L380.61,340.88 L381.42,341.99 L382.21,342.90 L383.00,343.99 L383.68,344.88 L384.35,346.01 L385.01,346.94 L385.67,347.69 L386.33,348.64 L387.00,348.59 L387.66,349.62 L388.32,351.04 L388.98,351.56 L389.65,352.27 L390.32,352.35 L391.00,353.15 L391.78,354.86 L392.58,355.50 L393.38,356.03 L394.19,356.73 L395.00,357.00 L395.79,358.43 L396.59,359.36 L397.39,360.25 L398.19,360.36 L399.00,360.93 L399.81,361.27 L400.65,362.75 L401.48,363.57 L402.27,363.33 L403.00,364.10 L404.01,364.61 L405.00,364.60 L405.92,363.51 L406.90,363.50 L408.00,363.21 L408.89,362.28 L409.85,362.38 L410.87,361.47 L411.92,363.03 L413.00,362.68 L413.93,362.42 L414.88,362.20 L415.85,361.96 L416.85,362.04 L417.87,361.86 L418.92,361.79 L420.00,361.79 L420.92,361.79 L421.85,362.24 L422.80,361.16 L423.77,361.72 L424.76,361.39 L425.77,361.19 L426.80,360.75 L427.84,361.79 L428.91,361.24 L430.00,361.33 L430.90,361.78 L431.82,361.28 L432.75,361.71 L433.69,361.72 L434.64,362.09 L435.60,362.23 L436.58,361.64 L437.57,362.34 L438.58,362.05 L439.61,362.21 L440.65,362.16 L441.71,362.58 L442.79,361.95 L443.88,362.53 L445.00,362.91 L445.91,362.44 L446.85,363.29 L447.80,362.37 L448.77,362.74 L449.76,362.53 L450.76,362.53 L451.78,362.39 L452.81,362.63 L453.84,362.84 L454.89,362.61 L455.95,363.24 L457.01,363.50 L458.08,362.47 L459.15,363.33 L460.23,363.14 L461.30,363.19 L462.38,364.00 L463.45,363.60 L464.53,363.33 L465.59,363.31 L466.66,362.53 L467.71,363.60 L468.76,363.10 L469.80,363.40" stroke="#bf3e0a" stroke-width="1.8"/>
<path d="M46.60,371.80 L47.66,371.71 L48.72,371.73 L49.79,371.50 L50.86,371.25 L51.92,371.30 L52.97,371.04 L54.00,371.21 L55.00,371.40 L56.04,370.57 L57.04,370.19 L58.03,370.14 L59.00,369.69 L59.98,369.22 L60.97,368.54 L62.00,368.49 L62.95,368.46 L63.89,367.62 L64.84,367.68 L65.80,367.06 L66.78,367.06 L67.80,366.74 L68.87,367.07 L70.00,366.62 L70.86,366.99 L71.76,366.87 L72.70,366.70 L73.66,365.94 L74.65,366.48 L75.66,366.58 L76.68,366.58 L77.72,366.05 L78.77,366.33 L79.82,366.15 L80.88,366.18 L81.92,366.71 L82.96,366.12 L83.99,366.32 L85.00,366.57 L86.01,366.09 L87.02,366.20 L88.05,366.24 L89.08,366.19 L90.11,365.78 L91.14,366.15 L92.18,366.51 L93.20,365.61 L94.22,366.32 L95.22,366.08 L96.22,365.83 L97.19,366.62 L98.15,366.24 L99.09,365.64 L100.00,366.02 L101.09,366.16 L102.18,365.90 L103.24,366.12 L104.28,365.86 L105.31,366.05 L106.31,366.27 L107.28,365.66 L108.22,365.99 L109.13,365.89 L110.00,366.24 L111.11,366.19 L112.13,366.84 L113.11,367.49 L114.05,368.36 L115.01,368.94 L116.00,368.60 L116.95,369.07 L117.86,369.76 L118.78,369.20 L119.75,369.85 L120.80,370.12 L122.00,370.68 L122.74,370.58 L123.52,370.33 L124.32,370.37 L125.15,370.43 L126.02,370.99 L126.91,370.42 L127.83,370.46 L128.79,370.65 L129.77,370.50 L130.78,370.47 L131.83,370.17 L132.90,370.49 L134.01,370.34 L135.14,370.80 L136.31,370.63 L137.51,370.41 L138.74,370.61 L140.00,370.30 L140.74,370.72 L141.52,370.40 L142.33,370.59 L143.18,370.03 L144.05,370.54 L144.96,369.94 L145.89,369.86 L146.85,370.40 L147.84,370.24 L148.85,370.58 L149.88,371.23 L150.93,370.34 L152.01,370.43 L153.10,370.70 L154.21,370.82 L155.33,370.65 L156.47,370.67 L157.62,370.97 L158.78,370.95 L159.94,370.51 L161.12,370.83 L162.31,370.89 L163.50,370.59 L164.69,371.01 L165.88,370.70 L167.08,371.27 L168.27,371.06 L169.46,371.05 L170.65,370.86 L171.84,371.02 L173.01,370.46 L174.18,370.73 L175.34,371.19 L176.49,370.44 L177.62,371.33 L178.74,370.55 L179.85,371.29 L180.94,370.79 L182.01,371.26 L183.06,371.04 L184.09,370.51 L185.10,371.32 L186.08,371.33 L187.04,370.84 L187.97,370.72 L188.87,370.70 L189.74,370.39 L190.58,370.95 L191.39,370.38 L192.16,370.44 L192.90,370.13 L193.60,370.08 L194.26,369.78 L194.88,370.43 L195.46,369.88 L196.00,370.09 L197.41,369.37 L198.56,368.65 L199.54,368.22 L200.41,367.55 L201.23,367.16 L202.07,366.44 L203.00,365.90 L203.85,365.01 L204.67,364.68 L205.47,365.00 L206.28,363.64 L207.12,362.98 L208.00,362.97 L208.95,362.89 L210.00,361.49 L210.82,361.69 L211.73,361.33 L212.71,360.76 L213.75,361.48 L214.84,361.09 L215.95,361.01 L217.09,360.63 L218.23,360.97 L219.37,360.54 L220.48,360.60 L221.56,360.18 L222.60,360.06 L223.57,360.86 L224.47,360.10 L225.29,360.25 L226.00,359.99 L227.18,359.53 L228.12,359.20 L229.00,359.23 L230.00,358.39 L230.76,358.03 L231.58,357.61 L232.44,357.49 L233.32,356.74 L234.21,356.02 L235.10,355.04 L235.97,354.06 L236.81,354.17 L237.60,353.44 L238.27,352.35 L238.92,351.83 L239.56,351.10 L240.18,350.27 L240.79,349.44 L241.39,348.08 L241.97,347.91 L242.54,346.10 L243.10,346.04 L243.66,345.16 L244.20,344.61 L245.06,344.02 L245.91,343.07 L246.72,341.38 L247.49,340.37 L248.20,340.29 L248.70,338.80 L249.16,338.25 L249.58,337.60 L249.99,335.73 L250.37,334.53 L250.75,334.29 L251.12,333.12 L251.50,331.91 L251.80,331.11 L252.10,329.87 L252.39,328.69 L252.67,328.19 L252.95,326.92 L253.23,325.68 L253.50,325.41 L253.77,324.18 L254.03,323.31 L254.29,321.77 L254.55,320.83 L254.80,319.65 L255.02,318.74 L255.24,318.16 L255.45,316.84 L255.66,316.25 L255.86,315.25 L256.06,314.84 L256.26,312.63 L256.46,312.42 L256.65,311.06 L256.85,310.06 L257.04,308.54 L257.23,307.87 L257.42,307.28 L257.61,305.98 L257.80,305.03 L257.99,303.91 L258.17,303.45 L258.36,302.08 L258.54,300.37 L258.72,299.95 L258.90,298.56 L259.07,297.17 L259.25,297.16 L259.43,296.84 L259.60,295.40 L259.78,293.96 L259.96,293.01 L260.14,292.66 L260.32,291.21 L260.50,290.02 L260.63,289.14 L260.76,288.31 L260.89,287.70 L261.02,286.71 L261.15,285.67 L261.28,284.30 L261.41,283.89 L261.53,282.50 L261.66,282.14 L261.79,280.32 L261.92,279.71 L262.06,278.74 L262.19,277.26 L262.32,277.29 L262.45,276.16 L262.58,274.44 L262.71,273.82 L262.85,272.63 L262.98,270.52 L263.11,270.47 L263.25,269.30 L263.38,268.30 L263.52,266.84 L263.66,266.07 L263.80,265.06 L263.94,264.49 L264.07,263.16 L264.22,262.02 L264.36,261.54 L264.50,259.81 L264.64,258.86 L264.79,257.34 L264.94,257.50 L265.09,256.26 L265.25,255.20 L265.40,254.07 L265.56,252.82 L265.72,251.80 L265.88,250.58 L266.04,249.54 L266.20,248.58 L266.37,248.03 L266.53,246.64 L266.69,245.38 L266.85,244.15 L267.01,243.09 L267.17,242.84 L267.33,241.43 L267.49,240.26 L267.65,239.11 L267.81,237.85 L267.96,237.24 L268.11,236.60 L268.26,235.20 L268.41,234.32 L268.55,233.41 L268.69,232.62 L268.83,231.14 L268.97,230.76 L269.10,229.70 L269.28,229.16 L269.46,227.48 L269.63,226.89 L269.79,226.20 L269.96,224.56 L270.12,223.48 L270.27,222.81 L270.43,221.79 L270.58,220.50 L270.73,220.07 L270.89,219.67 L271.04,217.92 L271.19,216.96 L271.34,215.66 L271.50,215.11 L271.64,213.60 L271.78,212.68 L271.92,212.54 L272.06,210.78 L272.20,210.48 L272.33,209.64 L272.47,208.19 L272.60,207.28 L272.74,206.75 L272.88,204.99 L273.01,203.83 L273.15,202.55 L273.29,202.02 L273.43,201.51 L273.57,200.32 L273.71,198.66 L273.85,197.69 L274.00,196.82 L274.15,196.08 L274.30,194.89 L274.45,194.01 L274.60,193.00 L274.75,191.76 L274.91,190.83 L275.06,189.88 L275.21,188.76 L275.37,187.94 L275.53,187.41 L275.69,185.96 L275.85,184.78 L276.01,183.19 L276.18,182.95 L276.35,181.18 L276.52,180.43 L276.70,180.30 L276.92,179.17 L277.14,177.82 L277.36,176.25 L277.59,175.71 L277.82,174.61 L278.06,174.08 L278.30,173.68 L278.53,171.99 L278.78,170.67 L279.02,169.56 L279.26,168.97 L279.50,167.94 L279.74,166.59 L279.98,166.00 L280.22,164.53 L280.46,164.28 L280.70,163.22 L280.94,162.19 L281.18,160.62 L281.43,159.96 L281.69,158.74 L281.95,157.69 L282.22,156.78 L282.50,155.55 L282.84,154.44 L283.18,154.17 L283.51,152.80 L283.86,151.95 L284.23,151.29 L284.62,149.44 L285.04,148.96 L285.50,148.56 L286.27,147.60 L287.11,146.38 L287.97,146.16 L288.80,145.57 L289.75,145.37 L290.68,146.24 L291.50,147.78 L292.04,148.50 L292.47,148.62 L292.86,150.84 L293.30,151.81 L293.59,152.87 L293.89,153.17 L294.21,154.18 L294.53,154.93 L294.86,157.31 L295.20,157.48 L295.53,159.23 L295.87,159.59 L296.19,160.99 L296.51,161.43 L296.81,162.91 L297.10,164.34 L297.43,164.63 L297.75,166.45 L298.05,167.16 L298.35,167.62 L298.64,168.76 L298.93,169.74 L299.21,170.90 L299.50,171.81 L299.73,172.66 L299.95,173.82 L300.17,174.58 L300.38,175.52 L300.58,177.01 L300.79,178.40 L301.00,178.65 L301.22,180.28 L301.44,181.15 L301.68,182.15 L301.93,183.89 L302.20,184.52 L302.45,186.20 L302.72,186.36 L302.99,187.73 L303.28,188.47 L303.57,189.25 L303.87,190.68 L304.17,191.39 L304.48,192.65 L304.80,193.42 L305.11,194.08 L305.43,195.47 L305.75,196.60 L306.07,198.02 L306.39,198.51 L306.70,199.99 L306.92,200.24 L307.14,201.93 L307.36,202.21 L307.59,202.86 L307.81,204.39 L308.04,205.74 L308.27,205.77 L308.50,206.89 L308.73,207.99 L308.96,208.85 L309.20,210.38 L309.43,210.98 L309.66,212.04 L309.90,213.53 L310.13,214.10 L310.37,215.56 L310.60,216.12 L310.84,217.08 L311.07,217.92 L311.31,220.27 L311.54,220.56 L311.78,221.82 L312.01,222.77 L312.24,223.89 L312.47,224.90 L312.70,226.59 L312.93,226.59 L313.15,227.43 L313.38,228.64 L313.60,229.53 L313.82,231.26 L314.04,232.29 L314.26,232.66 L314.48,233.51 L314.69,234.87 L314.91,236.48 L315.13,236.01 L315.34,238.18 L315.56,238.62 L315.77,240.36 L315.98,240.62 L316.20,241.90 L316.41,242.47 L316.62,243.65 L316.83,245.48 L317.04,246.28 L317.25,246.86 L317.46,247.69 L317.67,248.33 L317.88,249.86 L318.10,250.99 L318.31,251.97 L318.52,252.97 L318.73,253.61 L318.94,254.98 L319.15,255.99 L319.36,257.45 L319.57,258.65 L319.79,258.95 L320.00,259.73 L320.21,260.98 L320.42,261.81 L320.63,262.79 L320.84,264.07 L321.05,264.76 L321.26,266.39 L321.46,267.20 L321.67,268.38 L321.88,269.29 L322.08,270.16 L322.29,271.15 L322.49,272.45 L322.70,273.40 L322.90,274.73 L323.11,275.70 L323.32,276.27 L323.53,277.80 L323.74,278.34 L323.95,279.61 L324.16,280.73 L324.38,281.10 L324.59,282.84 L324.81,283.82 L325.03,284.66 L325.25,285.50 L325.48,286.43 L325.70,287.11 L325.93,288.23 L326.16,288.98 L326.40,290.03 L326.74,290.72 L327.08,292.32 L327.43,293.36 L327.79,294.30 L328.15,295.20 L328.51,296.54 L328.87,296.73 L329.23,298.41 L329.60,299.26 L329.97,300.19 L330.34,301.12 L330.70,301.65 L331.07,302.66 L331.44,303.85 L331.80,304.65 L332.22,305.56 L332.63,305.93 L333.04,307.59 L333.46,308.74 L333.87,309.60 L334.29,310.23 L334.70,310.49 L335.12,312.24 L335.55,312.73 L335.97,312.76 L336.40,314.63 L336.88,314.95 L337.36,316.01 L337.83,317.23 L338.30,318.87 L338.79,319.25 L339.28,320.39 L339.80,321.77 L340.34,322.53 L340.90,322.66 L341.75,323.56 L342.65,324.05 L343.58,325.00 L344.53,326.03 L345.50,326.54 L346.61,326.83 L347.75,327.37 L348.90,326.89 L350.00,327.28 L351.29,327.62 L352.54,327.58 L353.60,328.07 L354.35,328.90 L354.90,330.04 L355.50,331.03 L356.39,330.10 L357.30,328.93 L358.25,328.70 L359.10,327.28 L359.56,326.13 L359.93,324.02 L360.50,323.47 L361.56,322.96 L362.70,322.90 L363.60,323.11 L364.50,324.38 L365.39,324.52 L366.36,323.62 L367.30,322.49 L368.23,321.86 L369.13,321.21 L370.00,319.03 L370.88,318.74 L371.74,317.73 L372.50,317.24 L373.30,318.59 L374.00,319.90 L374.45,320.39 L375.00,321.11 L375.87,321.93 L376.95,322.10 L378.00,322.99 L378.76,323.98 L379.50,325.07 L380.24,325.11 L381.00,325.98 L381.65,326.82 L382.31,328.03 L382.98,328.40 L383.65,329.79 L384.33,329.81 L385.00,330.93 L385.68,331.76 L386.37,332.93 L387.05,333.85 L387.73,333.79 L388.38,334.83 L389.00,336.12 L389.64,336.76 L390.22,337.46 L390.78,339.37 L391.36,340.18 L392.00,341.17 L392.62,341.68 L393.27,343.04 L393.95,343.43 L394.63,344.73 L395.32,344.71 L396.00,345.57 L396.66,346.95 L397.32,347.36 L397.97,348.91 L398.64,349.55 L399.31,349.78 L400.00,351.04 L400.78,351.63 L401.58,353.05 L402.39,353.01 L403.20,353.76 L404.00,355.11 L404.99,356.11 L405.96,356.32 L407.00,355.53 L407.95,355.61 L408.96,356.12 L409.98,355.10 L411.00,354.51 L411.98,354.94 L412.95,355.00 L413.94,354.24 L415.00,353.68 L415.96,353.59 L416.96,354.40 L418.00,353.42 L419.07,353.47 L420.17,353.44 L421.30,353.51 L422.30,352.99 L423.32,353.41 L424.35,352.77 L425.41,353.11 L426.50,352.87 L427.63,354.06 L428.79,353.59 L430.00,353.33 L430.87,353.59 L431.77,353.73 L432.68,354.27 L433.61,353.21 L434.56,353.59 L435.53,354.01 L436.51,355.56 L437.51,354.87 L438.53,354.44 L439.57,354.94 L440.62,355.71 L441.69,354.65 L442.78,354.67 L443.88,355.54 L445.00,355.25 L445.91,355.39 L446.85,354.84 L447.80,356.10 L448.77,356.03 L449.76,355.50 L450.76,355.59 L451.78,354.27 L452.80,355.63 L453.84,355.25 L454.89,355.59 L455.95,355.74 L457.01,355.25 L458.08,354.60 L459.15,355.65 L460.23,355.11 L461.30,355.34 L462.38,355.23 L463.45,355.38 L464.53,354.42 L465.59,356.20 L466.66,355.75 L467.71,356.20 L468.76,356.66 L469.80,355.70" stroke="#707070" stroke-width="1.4"/>
<path d="M46.60,371.80 L47.66,372.90 L48.72,370.36 L49.79,372.00 L50.86,371.46 L51.92,371.50 L52.96,371.59 L53.99,370.52 L55.00,371.37 L56.04,370.82 L57.04,372.85 L58.03,370.84 L59.00,370.19 L59.98,369.90 L60.98,369.39 L62.00,368.92 L62.95,369.09 L63.90,369.39 L64.84,368.82 L65.80,369.33 L66.79,368.56 L67.81,368.55 L68.87,369.27 L70.00,368.60 L70.86,367.94 L71.76,368.05 L72.70,368.38 L73.66,369.09 L74.65,367.82 L75.66,367.79 L76.69,368.43 L77.72,367.35 L78.77,367.64 L79.82,368.25 L80.88,368.05 L81.92,367.75 L82.96,368.03 L83.99,366.08 L85.00,368.16 L86.01,367.04 L87.02,366.62 L88.05,367.66 L89.08,367.86 L90.11,367.20 L91.14,366.83 L92.18,367.41 L93.20,367.35 L94.22,368.13 L95.22,367.75 L96.22,367.43 L97.19,367.93 L98.15,367.19 L99.09,366.79 L100.00,367.62 L101.09,367.61 L102.17,367.15 L103.24,366.81 L104.28,367.33 L105.30,365.82 L106.30,367.57 L107.27,367.48 L108.21,366.36 L109.12,367.39 L110.00,366.97 L111.10,368.20 L112.13,367.05 L113.10,368.11 L114.05,369.45 L115.01,370.11 L116.00,368.61 L116.95,369.77 L117.87,370.43 L118.78,370.09 L119.75,371.44 L120.81,370.03 L122.00,370.99 L122.74,370.28 L123.52,371.67 L124.32,370.91 L125.16,370.74 L126.02,370.01 L126.91,371.89 L127.84,371.38 L128.79,371.37 L129.77,371.57 L130.78,371.12 L131.83,370.55 L132.90,370.45 L134.01,370.43 L135.14,371.60 L136.31,370.03 L137.51,370.49 L138.74,370.63 L140.00,370.92 L140.74,371.12 L141.51,370.12 L142.31,369.86 L143.14,370.81 L143.99,371.49 L144.87,371.25 L145.78,370.97 L146.71,370.69 L147.66,371.04 L148.63,370.77 L149.62,371.37 L150.63,370.50 L151.66,371.03 L152.71,370.92 L153.77,371.30 L154.84,371.15 L155.93,372.45 L157.03,371.90 L158.14,371.92 L159.26,370.00 L160.39,370.96 L161.53,370.83 L162.67,371.48 L163.81,369.96 L164.96,371.88 L166.12,371.84 L167.27,370.55 L168.42,370.75 L169.58,370.86 L170.73,371.34 L171.87,371.68 L173.02,372.46 L174.15,371.24 L175.28,371.77 L176.40,371.44 L177.51,372.32 L178.62,371.76 L179.71,372.10 L180.78,370.75 L181.85,371.22 L182.90,370.87 L183.93,372.13 L184.94,371.64 L185.94,371.08 L186.91,370.97 L187.87,371.46 L188.80,370.77 L189.71,370.60 L190.59,371.33 L191.45,372.37 L192.28,370.82 L193.09,370.59 L193.86,370.19 L194.61,370.02 L195.32,370.97 L196.00,371.07 L197.30,370.42 L198.52,370.41 L199.67,370.08 L200.75,369.88 L201.78,368.64 L202.75,369.04 L203.69,369.12 L204.61,368.32 L205.50,368.22 L206.38,367.73 L207.27,367.73 L208.16,368.14 L209.07,367.07 L210.00,366.91 L210.97,367.14 L211.94,366.66 L212.90,366.88 L213.85,364.18 L214.80,365.51 L215.74,364.27 L216.67,364.20 L217.59,364.19 L218.50,363.93 L219.40,363.52 L220.28,362.65 L221.15,363.22 L222.00,361.83 L223.06,361.66 L224.09,362.04 L225.09,361.09 L226.08,362.62 L227.05,361.85 L228.03,362.47 L229.01,361.08 L230.00,360.77 L231.02,361.02 L232.07,361.32 L233.14,360.51 L234.20,361.06 L235.24,360.78 L236.23,361.67 L237.15,360.14 L238.00,360.93 L239.12,359.40 L240.07,358.71 L240.99,358.06 L242.00,356.96 L242.67,357.00 L243.40,356.77 L244.15,355.72 L244.93,355.22 L245.72,354.93 L246.50,353.54 L247.27,352.70 L248.00,351.67 L248.68,350.23 L249.30,350.44 L249.83,348.48 L250.33,348.70 L250.79,347.49 L251.23,347.08 L251.64,345.59 L252.03,344.29 L252.40,343.86 L252.76,342.50 L253.12,341.73 L253.46,340.91 L253.80,339.94 L254.20,338.89 L254.57,337.61 L254.92,336.94 L255.25,335.10 L255.57,335.02 L255.88,333.57 L256.19,333.58 L256.50,332.57 L256.75,330.23 L256.98,330.28 L257.22,329.25 L257.44,327.92 L257.66,327.70 L257.88,326.30 L258.10,324.73 L258.32,324.38 L258.53,323.38 L258.75,322.40 L258.97,320.65 L259.20,320.28 L259.34,319.54 L259.49,317.88 L259.64,317.26 L259.78,316.65 L259.93,315.53 L260.08,315.66 L260.23,314.03 L260.38,312.52 L260.53,311.65 L260.68,310.99 L260.83,311.04 L260.98,308.90 L261.13,308.01 L261.28,307.14 L261.43,305.84 L261.58,305.82 L261.73,303.49 L261.88,302.99 L262.03,301.66 L262.18,300.79 L262.32,298.90 L262.47,299.15 L262.62,297.23 L262.76,296.24 L262.90,294.74 L263.05,293.78 L263.19,293.32 L263.33,292.47 L263.46,291.35 L263.60,290.54 L263.73,289.32 L263.87,288.01 L264.00,287.38 L264.12,286.27 L264.25,284.96 L264.38,284.33 L264.50,283.58 L264.62,282.11 L264.75,280.84 L264.87,280.33 L264.99,279.86 L265.11,277.91 L265.23,276.96 L265.34,275.94 L265.46,275.55 L265.58,273.17 L265.70,273.16 L265.82,272.54 L265.94,270.63 L266.06,270.67 L266.18,269.24 L266.30,267.75 L266.42,267.09 L266.54,265.31 L266.66,264.74 L266.79,264.82 L266.91,262.60 L267.04,262.83 L267.17,260.96 L267.30,260.45 L267.43,259.02 L267.57,256.99 L267.71,256.74 L267.84,256.08 L267.99,254.48 L268.13,253.39 L268.27,253.16 L268.42,251.71 L268.56,250.24 L268.71,249.69 L268.85,249.39 L269.00,247.79 L269.15,247.42 L269.30,246.69 L269.44,245.02 L269.59,243.49 L269.74,242.42 L269.88,241.99 L270.03,241.40 L270.17,240.13 L270.31,239.25 L270.45,237.80 L270.59,237.14 L270.73,235.79 L270.86,234.86 L271.00,233.42 L271.13,232.30 L271.25,231.79 L271.38,230.50 L271.50,229.57 L271.62,229.30 L271.73,227.95 L271.85,228.31 L271.95,226.42 L272.06,224.72 L272.16,224.35 L272.27,223.16 L272.37,221.70 L272.47,221.50 L272.56,219.65 L272.66,217.63 L272.75,218.36 L272.85,216.73 L272.94,216.67 L273.03,214.71 L273.12,213.47 L273.21,213.70 L273.31,211.52 L273.40,211.09 L273.49,210.65 L273.59,209.05 L273.68,207.96 L273.78,207.04 L273.87,206.38 L273.97,204.64 L274.07,204.27 L274.18,203.26 L274.28,203.05 L274.39,200.85 L274.50,199.59 L274.61,199.33 L274.73,197.82 L274.84,197.13 L274.96,196.06 L275.08,195.52 L275.20,193.70 L275.32,192.96 L275.44,190.85 L275.56,190.60 L275.69,190.69 L275.81,188.69 L275.93,187.68 L276.06,186.45 L276.19,186.26 L276.31,185.08 L276.44,183.46 L276.57,183.30 L276.69,182.12 L276.82,181.34 L276.95,179.71 L277.08,179.78 L277.20,178.18 L277.33,176.95 L277.46,175.77 L277.58,174.89 L277.71,174.39 L277.83,172.88 L277.95,172.49 L278.08,171.26 L278.20,170.61 L278.32,169.36 L278.45,167.96 L278.57,166.11 L278.70,166.09 L278.82,165.29 L278.95,163.98 L279.08,163.13 L279.21,161.63 L279.34,160.64 L279.46,159.35 L279.59,159.36 L279.72,157.78 L279.85,156.46 L279.98,155.05 L280.10,154.55 L280.23,154.25 L280.35,152.79 L280.48,151.24 L280.60,151.20 L280.72,150.20 L280.84,149.00 L280.95,147.92 L281.07,147.11 L281.18,145.86 L281.29,145.00 L281.40,143.35 L281.50,143.43 L281.60,141.93 L281.70,141.82 L281.80,139.08 L281.91,139.22 L282.02,138.26 L282.13,136.58 L282.23,135.87 L282.32,134.95 L282.42,133.82 L282.51,132.27 L282.60,131.42 L282.68,130.92 L282.77,130.03 L282.85,128.50 L282.93,127.50 L283.01,126.58 L283.09,126.00 L283.18,124.10 L283.26,123.04 L283.34,122.76 L283.43,121.29 L283.51,120.63 L283.60,120.04 L283.72,119.08 L283.83,117.28 L283.93,117.07 L284.04,114.88 L284.15,114.92 L284.26,112.96 L284.37,112.11 L284.48,111.98 L284.60,110.50 L284.73,109.29 L284.86,108.39 L285.00,107.71 L285.13,106.50 L285.27,105.50 L285.41,104.96 L285.56,103.12 L285.71,102.17 L285.87,101.07 L286.03,100.75 L286.20,99.59 L286.36,98.65 L286.53,96.98 L286.69,95.86 L286.86,95.27 L287.02,93.67 L287.19,93.21 L287.34,92.18 L287.50,90.59 L287.68,89.74 L287.87,88.63 L288.05,88.40 L288.23,87.73 L288.41,85.49 L288.59,84.52 L288.78,82.48 L288.96,82.60 L289.14,81.50 L289.32,80.02 L289.50,79.85 L289.69,77.75 L289.88,77.31 L290.07,76.44 L290.25,74.78 L290.44,74.70 L290.63,73.78 L290.82,71.67 L291.01,70.65 L291.20,70.56 L291.40,69.29 L291.61,67.74 L291.81,67.14 L292.02,66.23 L292.23,65.22 L292.44,64.67 L292.66,63.49 L292.87,63.14 L293.09,61.99 L293.30,60.71 L293.52,59.77 L293.73,58.69 L293.94,57.19 L294.14,55.12 L294.36,54.93 L294.61,53.57 L294.88,53.43 L295.20,52.14 L295.84,51.86 L296.50,51.45 L297.12,51.22 L297.70,49.98 L298.25,50.23 L298.80,51.34 L299.30,51.81 L299.80,53.03 L300.30,54.00 L300.69,55.01 L301.09,56.70 L301.48,56.66 L301.85,57.95 L302.20,59.01 L302.42,60.28 L302.63,60.39 L302.83,61.60 L303.01,62.93 L303.19,64.26 L303.37,65.08 L303.55,65.95 L303.72,66.86 L303.91,68.52 L304.10,69.95 L304.31,70.46 L304.52,71.39 L304.73,72.49 L304.94,72.84 L305.16,74.10 L305.37,75.09 L305.58,76.32 L305.79,77.17 L306.00,77.65 L306.19,79.69 L306.38,80.94 L306.57,81.05 L306.75,82.35 L306.93,83.31 L307.12,84.56 L307.30,84.57 L307.50,87.00 L307.69,87.12 L307.90,88.97 L308.10,89.45 L308.31,90.26 L308.52,91.42 L308.73,92.94 L308.95,93.21 L309.17,94.49 L309.40,95.52 L309.62,96.04 L309.85,98.48 L310.07,99.23 L310.29,100.03 L310.50,101.62 L310.71,101.73 L310.92,103.18 L311.13,105.05 L311.34,105.77 L311.55,105.39 L311.76,105.95 L311.96,108.04 L312.17,110.04 L312.38,110.41 L312.58,111.59 L312.79,113.02 L313.00,113.40 L313.21,114.95 L313.42,116.27 L313.62,117.18 L313.83,118.21 L314.04,118.82 L314.24,120.38 L314.45,121.01 L314.66,122.85 L314.87,124.48 L315.08,124.05 L315.29,124.46 L315.50,126.31 L315.70,127.66 L315.90,128.95 L316.10,129.97 L316.31,130.13 L316.52,131.13 L316.72,133.06 L316.93,132.99 L317.13,134.97 L317.33,135.36 L317.53,136.79 L317.73,137.73 L317.92,138.71 L318.10,139.67 L318.30,139.90 L318.50,141.49 L318.69,142.34 L318.88,143.43 L319.06,144.80 L319.24,145.10 L319.42,145.89 L319.61,146.92 L319.80,148.20 L320.00,149.84 L320.14,150.00 L320.29,151.78 L320.44,152.32 L320.59,153.04 L320.74,153.52 L320.90,155.23 L321.05,156.45 L321.21,156.38 L321.37,158.76 L321.53,160.03 L321.69,160.52 L321.85,161.66 L322.01,163.61 L322.16,164.16 L322.32,164.29 L322.48,165.77 L322.64,166.77 L322.79,167.84 L322.95,167.90 L323.10,170.34 L323.25,170.71 L323.39,172.09 L323.53,172.99 L323.68,174.49 L323.82,175.02 L323.96,175.85 L324.10,177.51 L324.24,178.97 L324.38,179.25 L324.53,181.07 L324.67,181.62 L324.81,182.30 L324.95,184.25 L325.09,184.20 L325.23,186.01 L325.38,186.29 L325.52,187.66 L325.66,187.81 L325.81,188.87 L325.95,190.57 L326.10,190.98 L326.33,192.07 L326.56,192.88 L326.79,194.22 L327.02,194.28 L327.26,195.29 L327.49,196.64 L327.73,197.31 L327.96,198.46 L328.20,199.97 L328.33,200.67 L328.46,201.41 L328.60,203.09 L328.73,203.66 L328.87,204.66 L329.01,205.03 L329.15,205.79 L329.29,206.36 L329.43,207.88 L329.58,208.14 L329.72,209.89 L329.86,211.58 L330.00,213.06 L330.15,213.87 L330.29,214.16 L330.43,215.89 L330.57,216.43 L330.71,218.27 L330.85,218.96 L330.98,220.50 L331.12,222.36 L331.25,222.70 L331.38,224.39 L331.50,224.46 L331.63,225.24 L331.75,226.98 L331.87,228.11 L331.98,228.01 L332.09,229.19 L332.20,229.35 L332.34,231.06 L332.48,232.65 L332.60,233.28 L332.72,234.09 L332.83,234.72 L332.94,236.50 L333.04,237.65 L333.15,238.51 L333.26,239.30 L333.36,239.56 L333.48,241.87 L333.60,242.01 L333.72,242.93 L333.86,244.32 L334.00,244.03 L334.15,245.94 L334.30,246.88 L334.46,248.08 L334.63,249.50 L334.80,250.09 L334.98,250.05 L335.16,251.71 L335.34,252.95 L335.52,253.92 L335.70,254.27 L335.89,255.10 L336.07,257.09 L336.24,257.99 L336.42,258.82 L336.58,259.05 L336.75,261.61 L336.90,260.49 L337.05,262.67 L337.19,264.82 L337.33,264.87 L337.45,266.10 L337.58,266.53 L337.70,268.74 L337.81,268.61 L337.93,270.36 L338.05,271.35 L338.18,271.86 L338.30,273.76 L338.44,273.73 L338.59,275.05 L338.75,276.32 L338.92,277.09 L339.10,278.41 L339.34,279.68 L339.59,280.17 L339.86,281.08 L340.14,282.08 L340.43,283.12 L340.73,284.61 L341.03,285.08 L341.33,286.29 L341.63,286.97 L341.92,287.53 L342.20,289.19 L342.53,289.36 L342.85,290.84 L343.18,292.49 L343.50,292.29 L343.82,293.70 L344.15,293.95 L344.47,295.36 L344.80,295.83 L345.19,297.42 L345.56,298.40 L345.94,299.74 L346.33,301.42 L346.75,301.87 L347.20,303.10 L347.60,303.68 L348.02,304.54 L348.46,305.23 L348.92,305.76 L349.39,307.53 L349.88,309.13 L350.39,309.45 L350.90,309.76 L351.58,311.59 L352.28,311.41 L353.01,312.02 L353.75,312.41 L354.50,313.17 L355.41,314.23 L356.34,315.94 L357.27,315.63 L358.20,315.94 L359.13,316.76 L360.08,317.54 L360.98,317.53 L361.80,319.16 L362.32,320.21 L362.76,320.97 L363.15,322.10 L363.54,322.24 L363.97,322.97 L364.50,325.08 L365.29,325.76 L366.18,325.22 L367.10,326.52 L368.00,326.81 L369.02,327.34 L370.04,327.30 L371.00,326.77 L371.65,326.57 L372.24,325.73 L372.81,324.68 L373.38,322.93 L374.00,321.65 L374.94,321.83 L375.93,320.77 L377.00,321.11 L377.94,321.07 L378.95,320.73 L379.98,320.38 L381.00,320.53 L382.02,320.92 L383.07,319.96 L384.07,320.70 L385.00,320.82 L385.85,321.16 L386.62,322.47 L387.33,322.36 L388.00,323.92 L388.69,323.97 L389.33,324.91 L390.00,325.52 L390.98,326.78 L392.00,326.78 L392.72,328.00 L393.45,328.44 L394.20,330.48 L395.00,331.83 L395.75,332.00 L396.55,334.05 L397.38,333.86 L398.20,336.11 L399.00,335.09 L399.69,334.38 L400.38,337.97 L401.06,337.37 L401.72,337.41 L402.37,338.60 L403.00,338.54 L403.63,340.67 L404.24,340.66 L404.82,343.75 L405.41,343.80 L406.00,342.51 L406.59,343.44 L407.17,345.09 L407.76,344.66 L408.36,347.10 L409.00,347.96 L409.62,348.06 L410.26,349.05 L410.93,350.77 L411.61,352.37 L412.30,353.17 L413.00,352.53 L413.79,353.95 L414.60,353.14 L415.42,354.77 L416.23,354.10 L417.00,356.16 L418.00,355.08 L418.97,355.96 L420.00,357.49 L420.83,358.55 L421.69,357.36 L422.60,358.77 L423.54,359.93 L424.50,360.51 L425.52,359.97 L426.55,361.17 L427.63,361.15 L428.77,362.93 L430.00,362.40 L430.85,360.84 L431.72,360.15 L432.60,362.30 L433.52,363.33 L434.47,362.47 L435.47,363.14 L436.51,361.94 L437.61,361.18 L438.77,363.12 L440.00,362.59 L440.77,363.15 L441.58,361.32 L442.42,362.76 L443.30,362.07 L444.20,363.39 L445.13,362.17 L446.09,362.18 L447.07,362.23 L448.08,363.93 L449.10,362.85 L450.14,362.17 L451.20,361.96 L452.27,361.98 L453.36,364.26 L454.46,361.34 L455.56,362.24 L456.67,363.61 L457.79,364.13 L458.91,362.96 L460.02,363.83 L461.14,363.84 L462.26,364.07 L463.36,363.26 L464.47,364.74 L465.56,363.47 L466.64,364.70 L467.71,362.36 L468.76,364.23 L469.80,363.40" stroke="#ad7508" stroke-width="2.3"/>
</g>
<line x1="367.5" y1="75.4" x2="383" y2="75.4" stroke="#a5a5a5" stroke-width="2"/>
<text x="384.7" y="78.3" font-size="7.8" font-weight="bold" fill="#595959" textLength="19.5" lengthAdjust="spacingAndGlyphs">20TG</text>
<line x1="367.5" y1="97.7" x2="383" y2="97.7" stroke="#fcbc00" stroke-width="2"/>
<text x="384.7" y="100.6" font-size="7.8" font-weight="bold" fill="#595959" textLength="19.5" lengthAdjust="spacingAndGlyphs">30TG</text>
<line x1="367.5" y1="120.0" x2="383" y2="120.0" stroke="#0a66c6" stroke-width="2"/>
<text x="384.7" y="122.9" font-size="7.8" font-weight="bold" fill="#595959" textLength="19.5" lengthAdjust="spacingAndGlyphs">40TG</text>
<line x1="367.5" y1="142.3" x2="383" y2="142.3" stroke="#bf3e0a" stroke-width="2"/>
<text x="384.7" y="145.2" font-size="7.8" font-weight="bold" fill="#595959" textLength="24.7" lengthAdjust="spacingAndGlyphs">20DTG</text>
<line x1="367.5" y1="164.6" x2="383" y2="164.6" stroke="#707070" stroke-width="2"/>
<text x="384.7" y="167.5" font-size="7.8" font-weight="bold" fill="#595959" textLength="24.7" lengthAdjust="spacingAndGlyphs">30DTG</text>
<line x1="367.5" y1="186.9" x2="383" y2="186.9" stroke="#ad7508" stroke-width="2"/>
<text x="384.7" y="189.8" font-size="7.8" font-weight="bold" fill="#595959" textLength="24.7" lengthAdjust="spacingAndGlyphs">40DTG</text>
<line x1="62.8" y1="495.8" x2="62.8" y2="892.3" stroke="#cfcfcf" stroke-width="1.2"/>
<line x1="62.8" y1="892.3" x2="461.0" y2="892.3" stroke="#cfcfcf" stroke-width="1.2"/>
<text x="54.3" y="499.0" font-size="8.8" fill="#808080" text-anchor="end">1</text>
<text x="54.3" y="538.7" font-size="8.8" fill="#808080" text-anchor="end">0.9</text>
<text x="54.3" y="578.3" font-size="8.8" fill="#808080" text-anchor="end">0.8</text>
<text x="54.3" y="618.0" font-size="8.8" fill="#808080" text-anchor="end">0.7</text>
<text x="54.3" y="657.6" font-size="8.8" fill="#808080" text-anchor="end">0.6</text>
<text x="54.3" y="697.2" font-size="8.8" fill="#808080" text-anchor="end">0.5</text>
<text x="54.3" y="736.9" font-size="8.8" fill="#808080" text-anchor="end">0.4</text>
<text x="54.3" y="776.5" font-size="8.8" fill="#808080" text-anchor="end">0.3</text>
<text x="54.3" y="816.2" font-size="8.8" fill="#808080" text-anchor="end">0.2</text>
<text x="54.3" y="855.9" font-size="8.8" fill="#808080" text-anchor="end">0.1</text>
<text x="54.3" y="895.5" font-size="8.8" fill="#808080" text-anchor="end">0</text>
<text x="62.8" y="908.1" font-size="9.5" font-weight="bold" fill="#595959" text-anchor="middle">300</text>
<text x="129.2" y="908.1" font-size="9.5" font-weight="bold" fill="#595959" text-anchor="middle">400</text>
<text x="195.5" y="908.1" font-size="9.5" font-weight="bold" fill="#595959" text-anchor="middle">500</text>
<text x="261.9" y="908.1" font-size="9.5" font-weight="bold" fill="#595959" text-anchor="middle">600</text>
<text x="328.3" y="908.1" font-size="9.5" font-weight="bold" fill="#595959" text-anchor="middle">700</text>
<text x="394.6" y="908.1" font-size="9.5" font-weight="bold" fill="#595959" text-anchor="middle">800</text>
<text x="461.0" y="908.1" font-size="9.5" font-weight="bold" fill="#595959" text-anchor="middle">900</text>
<text x="275" y="479" font-size="18" font-weight="bold" fill="#404040" text-anchor="middle">(b)</text>
<text x="262.3" y="930.4" font-size="14.5" font-weight="bold" fill="#595959" text-anchor="middle" textLength="96" lengthAdjust="spacingAndGlyphs">Temperature K</text>
<text transform="translate(42,657.8) rotate(-90)" font-size="14.5" font-weight="bold" fill="#404040" text-anchor="middle" textLength="86" lengthAdjust="spacingAndGlyphs">Conversion α</text>
<g fill="none" stroke-linejoin="round" stroke-linecap="round" stroke-width="2.4">
<path d="M63.03,892.30 L64.62,892.46 L66.20,892.58 L67.78,892.66 L69.37,892.71 L70.95,892.72 L72.54,892.70 L74.12,892.64 L75.70,892.56 L77.29,892.46 L78.87,892.32 L80.46,892.17 L82.04,891.99 L83.62,891.80 L85.21,891.58 L86.79,891.35 L88.37,891.11 L89.96,890.86 L91.54,890.59 L93.12,890.32 L94.70,890.04 L96.28,889.76 L97.87,889.47 L99.45,889.18 L101.03,888.89 L102.61,888.61 L104.19,888.33 L105.77,888.06 L107.34,887.79 L108.92,887.54 L110.50,887.30 L112.08,887.07 L113.65,886.86 L115.23,886.65 L116.80,886.47 L118.38,886.29 L119.96,886.13 L121.53,885.98 L123.10,885.84 L124.68,885.72 L126.25,885.60 L127.83,885.49 L129.40,885.39 L130.98,885.30 L132.55,885.22 L134.13,885.15 L135.70,885.08 L137.28,885.02 L138.85,884.97 L140.43,884.92 L142.00,884.88 L143.58,884.85 L145.16,884.82 L146.74,884.79 L148.31,884.77 L149.89,884.74 L151.47,884.73 L153.06,884.71 L154.64,884.70 L156.22,884.68 L157.80,884.67 L159.39,884.66 L160.98,884.64 L162.56,884.63 L164.15,884.61 L165.74,884.60 L167.33,884.58 L168.93,884.56 L170.52,884.53 L172.12,884.50 L173.71,884.47 L175.31,884.43 L176.91,884.39 L178.51,884.34 L180.12,884.28 L181.72,884.22 L183.33,884.15 L184.94,884.08 L186.55,883.99 L188.17,883.90 L189.78,883.79 L191.40,883.68 L193.02,883.56 L194.64,883.43 L196.27,883.28 L197.89,883.13 L199.52,882.96 L201.15,882.78 L202.79,882.59 L204.42,882.38 L206.05,882.15 L207.68,881.91 L209.30,881.65 L210.92,881.36 L212.52,881.05 L214.12,880.72 L215.71,880.36 L217.28,879.98 L218.83,879.56 L220.37,879.12 L221.90,878.64 L223.40,878.13 L224.88,877.58 L226.33,877.00 L227.77,876.38 L229.17,875.72 L230.55,875.02 L231.90,874.28 L233.21,873.49 L234.49,872.65 L235.74,871.77 L236.95,870.84 L238.13,869.86 L239.26,868.83 L240.36,867.75 L241.42,866.62 L242.44,865.45 L243.42,864.24 L244.38,862.99 L245.30,861.71 L246.19,860.40 L247.04,859.06 L247.87,857.69 L248.68,856.30 L249.45,854.89 L250.20,853.46 L250.93,852.02 L251.63,850.57 L252.31,849.11 L252.97,847.64 L253.62,846.17 L254.24,844.69 L254.84,843.21 L255.42,841.72 L255.98,840.22 L256.53,838.72 L257.06,837.22 L257.57,835.71 L258.07,834.19 L258.55,832.67 L259.01,831.14 L259.46,829.61 L259.90,828.08 L260.32,826.54 L260.73,825.00 L261.12,823.45 L261.50,821.90 L261.87,820.35 L262.23,818.79 L262.58,817.23 L262.92,815.67 L263.25,814.10 L263.56,812.53 L263.87,810.96 L264.17,809.39 L264.47,807.81 L264.75,806.24 L265.03,804.66 L265.30,803.08 L265.56,801.49 L265.82,799.91 L266.08,798.33 L266.33,796.74 L266.57,795.15 L266.82,793.57 L267.05,791.98 L267.29,790.39 L267.52,788.80 L267.76,787.21 L267.99,785.62 L268.22,784.03 L268.45,782.45 L268.68,780.86 L268.91,779.27 L269.14,777.69 L269.38,776.10 L269.62,774.52 L269.86,772.94 L270.10,771.36 L270.34,769.78 L270.60,768.20 L270.85,766.63 L271.11,765.06 L271.37,763.49 L271.64,761.92 L271.91,760.35 L272.18,758.78 L272.46,757.22 L272.73,755.65 L273.02,754.09 L273.30,752.53 L273.59,750.97 L273.88,749.41 L274.17,747.85 L274.46,746.29 L274.76,744.74 L275.06,743.18 L275.36,741.62 L275.66,740.07 L275.96,738.51 L276.26,736.96 L276.57,735.40 L276.87,733.85 L277.18,732.29 L277.48,730.74 L277.79,729.18 L278.10,727.63 L278.40,726.07 L278.71,724.52 L279.02,722.96 L279.32,721.41 L279.63,719.85 L279.93,718.29 L280.24,716.73 L280.54,715.17 L280.84,713.61 L281.14,712.05 L281.44,710.48 L281.74,708.92 L282.04,707.36 L282.33,705.79 L282.63,704.22 L282.92,702.65 L283.21,701.08 L283.50,699.51 L283.79,697.94 L284.08,696.37 L284.38,694.80 L284.67,693.23 L284.96,691.65 L285.25,690.08 L285.55,688.51 L285.84,686.93 L286.14,685.36 L286.44,683.79 L286.74,682.22 L287.04,680.64 L287.34,679.07 L287.65,677.50 L287.95,675.93 L288.27,674.36 L288.58,672.79 L288.90,671.22 L289.22,669.65 L289.54,668.08 L289.87,666.51 L290.20,664.95 L290.53,663.38 L290.87,661.82 L291.22,660.26 L291.57,658.70 L291.92,657.14 L292.28,655.58 L292.64,654.02 L293.01,652.47 L293.39,650.92 L293.77,649.37 L294.15,647.82 L294.55,646.27 L294.95,644.73 L295.35,643.18 L295.77,641.64 L296.19,640.11 L296.62,638.57 L297.05,637.04 L297.49,635.51 L297.94,633.98 L298.40,632.46 L298.87,630.94 L299.34,629.42 L299.83,627.90 L300.32,626.39 L300.82,624.88 L301.33,623.38 L301.85,621.88 L302.39,620.38 L302.93,618.88 L303.48,617.39 L304.04,615.90 L304.61,614.42 L305.20,612.95 L305.79,611.48 L306.41,610.01 L307.03,608.56 L307.67,607.11 L308.33,605.67 L309.00,604.24 L309.69,602.82 L310.40,601.41 L311.12,600.01 L311.87,598.62 L312.63,597.24 L313.42,595.87 L314.22,594.52 L315.05,593.18 L315.89,591.85 L316.76,590.54 L317.66,589.24 L318.58,587.96 L319.51,586.69 L320.47,585.44 L321.45,584.19 L322.44,582.96 L323.45,581.73 L324.47,580.51 L325.50,579.30 L326.54,578.10 L327.60,576.90 L328.65,575.70 L329.72,574.51 L330.78,573.32 L331.85,572.13 L332.92,570.93 L333.99,569.74 L335.06,568.54 L336.12,567.34 L337.18,566.14 L338.23,564.93 L339.27,563.71 L340.30,562.48 L341.32,561.25 L342.32,560.00 L343.31,558.75 L344.29,557.48 L345.25,556.20 L346.20,554.92 L347.14,553.63 L348.08,552.33 L349.01,551.04 L349.94,549.74 L350.87,548.45 L351.81,547.16 L352.75,545.88 L353.70,544.60 L354.66,543.34 L355.63,542.09 L356.62,540.85 L357.63,539.63 L358.65,538.42 L359.69,537.23 L360.74,536.06 L361.81,534.90 L362.90,533.77 L364.01,532.65 L365.14,531.56 L366.29,530.49 L367.45,529.44 L368.64,528.41 L369.85,527.41 L371.07,526.43 L372.32,525.48 L373.60,524.56 L374.89,523.66 L376.21,522.79 L377.55,521.95 L378.91,521.14 L380.28,520.35 L381.68,519.59 L383.09,518.85 L384.52,518.13 L385.95,517.42 L387.40,516.74 L388.86,516.07 L390.32,515.42 L391.79,514.79 L393.27,514.16 L394.75,513.55 L396.24,512.95 L397.73,512.36 L399.22,511.78 L400.72,511.22 L402.23,510.66 L403.73,510.11 L405.24,509.57 L406.76,509.03 L408.27,508.51 L409.79,507.98 L411.30,507.47 L412.82,506.96 L414.34,506.45 L415.86,505.95 L417.38,505.44 L418.90,504.95 L420.42,504.45 L421.94,503.95 L423.45,503.46 L424.97,502.96 L426.48,502.46 L427.99,501.96 L429.50,501.46 L431.01,500.95 L432.51,500.44 L434.00,499.93 L435.50,499.41 L436.99,498.88 L438.47,498.35 L439.95,497.82 L441.42,497.27 L442.89,496.71 L444.35,496.15" stroke="#1e8ad6"/>
<path d="M63.04,892.28 L64.60,892.46 L66.17,892.61 L67.74,892.72 L69.31,892.80 L70.89,892.84 L72.47,892.85 L74.05,892.82 L75.63,892.77 L77.22,892.70 L78.81,892.59 L80.40,892.47 L81.99,892.32 L83.58,892.16 L85.17,891.97 L86.77,891.78 L88.36,891.56 L89.96,891.34 L91.56,891.11 L93.15,890.86 L94.75,890.62 L96.34,890.36 L97.94,890.11 L99.53,889.85 L101.13,889.60 L102.72,889.35 L104.31,889.10 L105.90,888.86 L107.49,888.63 L109.08,888.41 L110.66,888.20 L112.24,888.00 L113.82,887.81 L115.40,887.63 L116.98,887.47 L118.55,887.31 L120.13,887.16 L121.70,887.01 L123.27,886.88 L124.84,886.76 L126.41,886.64 L127.98,886.53 L129.55,886.42 L131.12,886.33 L132.69,886.24 L134.25,886.15 L135.82,886.07 L137.38,886.00 L138.95,885.93 L140.52,885.87 L142.08,885.81 L143.65,885.75 L145.22,885.70 L146.78,885.65 L148.35,885.60 L149.92,885.56 L151.49,885.51 L153.06,885.47 L154.63,885.43 L156.20,885.40 L157.77,885.36 L159.35,885.32 L160.93,885.28 L162.50,885.25 L164.08,885.21 L165.66,885.17 L167.24,885.13 L168.83,885.09 L170.42,885.05 L172.00,885.00 L173.59,884.95 L175.19,884.90 L176.78,884.85 L178.38,884.79 L179.98,884.72 L181.59,884.66 L183.19,884.59 L184.80,884.51 L186.41,884.43 L188.03,884.34 L189.65,884.24 L191.27,884.14 L192.90,884.03 L194.53,883.92 L196.16,883.80 L197.79,883.67 L199.44,883.53 L201.08,883.38 L202.73,883.23 L204.38,883.06 L206.03,882.88 L207.67,882.68 L209.32,882.47 L210.96,882.25 L212.60,882.00 L214.22,881.73 L215.84,881.45 L217.45,881.14 L219.05,880.80 L220.64,880.44 L222.21,880.06 L223.76,879.64 L225.30,879.20 L226.82,878.72 L228.32,878.21 L229.79,877.66 L231.25,877.08 L232.68,876.47 L234.08,875.81 L235.46,875.11 L236.80,874.37 L238.12,873.59 L239.40,872.76 L240.66,871.89 L241.87,870.97 L243.05,870.00 L244.20,868.98 L245.30,867.91 L246.37,866.80 L247.41,865.64 L248.41,864.45 L249.38,863.21 L250.32,861.95 L251.22,860.65 L252.10,859.32 L252.94,857.96 L253.76,856.58 L254.55,855.19 L255.32,853.77 L256.06,852.34 L256.78,850.90 L257.47,849.45 L258.15,847.99 L258.80,846.52 L259.43,845.05 L260.04,843.57 L260.63,842.08 L261.20,840.59 L261.75,839.09 L262.29,837.58 L262.80,836.07 L263.30,834.55 L263.79,833.03 L264.25,831.50 L264.70,829.97 L265.14,828.43 L265.56,826.89 L265.97,825.34 L266.36,823.79 L266.74,822.24 L267.11,820.68 L267.47,819.12 L267.82,817.55 L268.15,815.99 L268.48,814.41 L268.79,812.84 L269.10,811.26 L269.40,809.68 L269.69,808.10 L269.97,806.52 L270.25,804.94 L270.52,803.35 L270.78,801.76 L271.04,800.18 L271.29,798.59 L271.54,797.00 L271.79,795.41 L272.03,793.82 L272.27,792.23 L272.51,790.64 L272.74,789.05 L272.98,787.46 L273.21,785.87 L273.45,784.28 L273.69,782.69 L273.92,781.11 L274.16,779.53 L274.40,777.94 L274.64,776.37 L274.89,774.79 L275.14,773.21 L275.40,771.64 L275.66,770.07 L275.92,768.51 L276.19,766.94 L276.47,765.38 L276.75,763.83 L277.04,762.27 L277.33,760.72 L277.62,759.17 L277.92,757.62 L278.22,756.07 L278.53,754.53 L278.84,752.98 L279.15,751.44 L279.46,749.90 L279.78,748.36 L280.10,746.82 L280.42,745.29 L280.74,743.75 L281.06,742.21 L281.39,740.67 L281.72,739.14 L282.04,737.60 L282.37,736.06 L282.70,734.53 L283.03,732.99 L283.35,731.45 L283.68,729.91 L284.01,728.37 L284.33,726.83 L284.66,725.28 L284.98,723.74 L285.30,722.19 L285.62,720.64 L285.94,719.09 L286.25,717.54 L286.56,715.98 L286.87,714.42 L287.18,712.86 L287.48,711.30 L287.78,709.73 L288.07,708.16 L288.36,706.59 L288.65,705.01 L288.93,703.43 L289.22,701.85 L289.50,700.27 L289.77,698.69 L290.05,697.10 L290.33,695.51 L290.60,693.92 L290.87,692.33 L291.14,690.73 L291.41,689.14 L291.69,687.55 L291.96,685.95 L292.23,684.35 L292.50,682.76 L292.78,681.16 L293.05,679.56 L293.33,677.96 L293.61,676.36 L293.89,674.77 L294.17,673.17 L294.45,671.57 L294.74,669.98 L295.03,668.38 L295.33,666.79 L295.63,665.20 L295.93,663.61 L296.24,662.02 L296.55,660.43 L296.87,658.85 L297.19,657.26 L297.51,655.68 L297.85,654.10 L298.19,652.53 L298.53,650.95 L298.88,649.38 L299.24,647.81 L299.61,646.25 L299.98,644.69 L300.36,643.13 L300.75,641.58 L301.14,640.03 L301.55,638.48 L301.96,636.94 L302.39,635.40 L302.82,633.87 L303.26,632.34 L303.71,630.82 L304.17,629.30 L304.64,627.78 L305.13,626.28 L305.62,624.77 L306.13,623.28 L306.64,621.78 L307.17,620.30 L307.71,618.82 L308.26,617.35 L308.83,615.88 L309.41,614.42 L310.00,612.97 L310.60,611.52 L311.22,610.08 L311.85,608.65 L312.50,607.22 L313.16,605.80 L313.84,604.39 L314.53,602.99 L315.24,601.60 L315.96,600.21 L316.70,598.84 L317.45,597.47 L318.22,596.11 L319.01,594.75 L319.81,593.41 L320.64,592.08 L321.48,590.75 L322.33,589.44 L323.21,588.14 L324.10,586.84 L325.01,585.55 L325.94,584.27 L326.88,583.00 L327.83,581.74 L328.80,580.49 L329.79,579.24 L330.78,578.00 L331.79,576.76 L332.80,575.53 L333.83,574.31 L334.87,573.09 L335.91,571.87 L336.97,570.66 L338.03,569.45 L339.10,568.25 L340.17,567.05 L341.25,565.85 L342.33,564.66 L343.41,563.46 L344.50,562.27 L345.59,561.08 L346.68,559.89 L347.77,558.70 L348.87,557.51 L349.96,556.32 L351.05,555.13 L352.13,553.94 L353.22,552.74 L354.30,551.55 L355.37,550.35 L356.44,549.15 L357.50,547.95 L358.56,546.74 L359.61,545.53 L360.65,544.31 L361.68,543.09 L362.71,541.86 L363.72,540.64 L364.74,539.41 L365.75,538.19 L366.77,536.98 L367.79,535.77 L368.81,534.57 L369.85,533.39 L370.90,532.23 L371.97,531.08 L373.05,529.95 L374.15,528.85 L375.28,527.78 L376.43,526.73 L377.61,525.72 L378.83,524.73 L380.07,523.79 L381.35,522.88 L382.67,522.01 L384.01,521.18 L385.38,520.38 L386.78,519.61 L388.20,518.86 L389.63,518.14 L391.08,517.45 L392.55,516.77 L394.02,516.12 L395.50,515.48 L396.98,514.85 L398.47,514.24 L399.95,513.65 L401.45,513.06 L402.94,512.48 L404.44,511.92 L405.94,511.36 L407.44,510.81 L408.95,510.26 L410.45,509.72 L411.95,509.19 L413.46,508.65 L414.96,508.12 L416.46,507.59 L417.96,507.06 L419.46,506.52 L420.96,505.99 L422.46,505.44 L423.95,504.90 L425.44,504.34 L426.93,503.78 L428.41,503.22 L429.89,502.64 L431.36,502.05 L432.83,501.45 L434.29,500.83 L435.75,500.21 L437.20,499.56 L438.65,498.90 L440.08,498.23 L441.51,497.53 L442.94,496.82 L444.35,496.08" stroke="#f57a1f"/>
<path d="M62.92,892.40 L64.59,892.38 L66.26,892.37 L67.93,892.35 L69.60,892.33 L71.26,892.31 L72.93,892.29 L74.59,892.26 L76.24,892.24 L77.90,892.21 L79.55,892.18 L81.21,892.15 L82.86,892.12 L84.50,892.09 L86.15,892.06 L87.80,892.03 L89.44,891.99 L91.08,891.95 L92.72,891.92 L94.36,891.88 L96.00,891.84 L97.64,891.80 L99.27,891.75 L100.91,891.71 L102.54,891.67 L104.17,891.62 L105.80,891.57 L107.43,891.53 L109.06,891.48 L110.69,891.43 L112.32,891.38 L113.94,891.33 L115.57,891.28 L117.20,891.23 L118.82,891.18 L120.45,891.13 L122.07,891.07 L123.70,891.02 L125.32,890.96 L126.94,890.91 L128.57,890.85 L130.19,890.80 L131.82,890.74 L133.44,890.69 L135.06,890.63 L136.69,890.57 L138.31,890.51 L139.94,890.46 L141.56,890.40 L143.19,890.34 L144.82,890.28 L146.44,890.22 L148.07,890.16 L149.70,890.10 L151.33,890.04 L152.96,889.99 L154.59,889.93 L156.22,889.87 L157.85,889.81 L159.49,889.75 L161.12,889.69 L162.76,889.63 L164.39,889.57 L166.03,889.52 L167.67,889.46 L169.31,889.40 L170.96,889.34 L172.60,889.28 L174.25,889.23 L175.90,889.17 L177.55,889.12 L179.20,889.06 L180.85,889.01 L182.51,888.95 L184.17,888.90 L185.83,888.84 L187.49,888.79 L189.15,888.74 L190.82,888.69 L192.49,888.64 L194.16,888.59 L195.83,888.54 L197.51,888.49 L199.18,888.44 L200.87,888.39 L202.55,888.34 L204.23,888.29 L205.92,888.24 L207.60,888.18 L209.28,888.11 L210.96,888.03 L212.64,887.94 L214.31,887.83 L215.98,887.71 L217.64,887.57 L219.29,887.40 L220.93,887.22 L222.56,887.00 L224.19,886.77 L225.80,886.50 L227.40,886.20 L228.99,885.87 L230.56,885.50 L232.11,885.09 L233.65,884.65 L235.18,884.16 L236.68,883.63 L238.17,883.06 L239.63,882.43 L241.08,881.76 L242.50,881.04 L243.90,880.26 L245.28,879.42 L246.63,878.53 L247.95,877.59 L249.24,876.59 L250.50,875.54 L251.72,874.44 L252.91,873.30 L254.06,872.12 L255.16,870.89 L256.23,869.62 L257.24,868.32 L258.21,866.98 L259.13,865.61 L260.00,864.21 L260.83,862.78 L261.63,861.32 L262.38,859.84 L263.10,858.35 L263.79,856.83 L264.44,855.30 L265.06,853.76 L265.66,852.21 L266.23,850.65 L266.78,849.09 L267.31,847.53 L267.81,845.96 L268.30,844.38 L268.77,842.81 L269.22,841.23 L269.66,839.65 L270.09,838.06 L270.50,836.48 L270.90,834.89 L271.29,833.29 L271.67,831.70 L272.04,830.11 L272.41,828.51 L272.77,826.91 L273.12,825.31 L273.47,823.71 L273.81,822.10 L274.15,820.50 L274.48,818.89 L274.81,817.28 L275.13,815.67 L275.44,814.06 L275.76,812.45 L276.06,810.84 L276.37,809.22 L276.67,807.61 L276.96,805.99 L277.25,804.37 L277.54,802.75 L277.82,801.14 L278.11,799.52 L278.39,797.90 L278.66,796.27 L278.94,794.65 L279.21,793.03 L279.48,791.41 L279.75,789.79 L280.01,788.16 L280.28,786.54 L280.54,784.92 L280.80,783.29 L281.06,781.67 L281.32,780.05 L281.58,778.42 L281.84,776.80 L282.10,775.18 L282.36,773.55 L282.62,771.93 L282.89,770.31 L283.15,768.69 L283.41,767.06 L283.67,765.44 L283.93,763.82 L284.20,762.20 L284.46,760.58 L284.73,758.96 L285.00,757.34 L285.26,755.73 L285.53,754.11 L285.80,752.49 L286.07,750.87 L286.34,749.25 L286.61,747.64 L286.88,746.02 L287.15,744.40 L287.42,742.79 L287.69,741.17 L287.96,739.55 L288.24,737.94 L288.51,736.32 L288.79,734.71 L289.06,733.09 L289.34,731.48 L289.61,729.86 L289.89,728.25 L290.17,726.63 L290.44,725.02 L290.72,723.40 L291.00,721.79 L291.28,720.18 L291.56,718.56 L291.84,716.95 L292.12,715.33 L292.40,713.72 L292.68,712.10 L292.96,710.49 L293.24,708.88 L293.52,707.26 L293.81,705.65 L294.09,704.03 L294.37,702.42 L294.66,700.81 L294.94,699.19 L295.22,697.58 L295.51,695.96 L295.79,694.35 L296.08,692.73 L296.36,691.12 L296.65,689.50 L296.94,687.89 L297.22,686.27 L297.51,684.66 L297.79,683.04 L298.08,681.42 L298.37,679.81 L298.66,678.19 L298.94,676.57 L299.23,674.96 L299.52,673.34 L299.81,671.72 L300.09,670.10 L300.38,668.48 L300.67,666.87 L300.96,665.25 L301.25,663.63 L301.54,662.01 L301.83,660.39 L302.11,658.77 L302.40,657.14 L302.69,655.52 L302.98,653.90 L303.27,652.28 L303.56,650.66 L303.85,649.03 L304.14,647.41 L304.43,645.79 L304.72,644.16 L305.01,642.54 L305.30,640.91 L305.60,639.29 L305.89,637.66 L306.19,636.04 L306.49,634.42 L306.80,632.80 L307.10,631.17 L307.41,629.55 L307.72,627.93 L308.04,626.31 L308.36,624.70 L308.68,623.08 L309.01,621.46 L309.34,619.85 L309.68,618.24 L310.02,616.63 L310.37,615.02 L310.72,613.41 L311.08,611.81 L311.45,610.21 L311.82,608.61 L312.20,607.01 L312.59,605.41 L312.98,603.82 L313.38,602.23 L313.79,600.64 L314.21,599.06 L314.63,597.48 L315.07,595.90 L315.51,594.32 L315.96,592.75 L316.42,591.18 L316.89,589.62 L317.37,588.06 L317.86,586.50 L318.36,584.95 L318.87,583.40 L319.40,581.85 L319.93,580.31 L320.48,578.78 L321.04,577.25 L321.62,575.73 L322.23,574.23 L322.85,572.74 L323.51,571.26 L324.19,569.80 L324.91,568.35 L325.66,566.93 L326.45,565.53 L327.28,564.15 L328.15,562.80 L329.06,561.48 L330.03,560.18 L331.04,558.92 L332.08,557.67 L333.17,556.45 L334.28,555.25 L335.42,554.06 L336.59,552.89 L337.77,551.73 L338.96,550.58 L340.16,549.43 L341.37,548.28 L342.57,547.14 L343.77,545.99 L344.96,544.84 L346.14,543.68 L347.32,542.52 L348.50,541.36 L349.67,540.20 L350.83,539.03 L352.00,537.86 L353.16,536.70 L354.33,535.53 L355.49,534.36 L356.66,533.19 L357.83,532.03 L359.00,530.87 L360.18,529.71 L361.37,528.55 L362.56,527.40 L363.75,526.26 L364.95,525.12 L366.16,524.00 L367.38,522.88 L368.61,521.78 L369.84,520.69 L371.08,519.62 L372.34,518.56 L373.60,517.52 L374.88,516.50 L376.16,515.50 L377.46,514.52 L378.77,513.56 L380.09,512.62 L381.43,511.71 L382.78,510.83 L384.15,509.97 L385.53,509.15 L386.92,508.35 L388.33,507.59 L389.76,506.85 L391.20,506.16 L392.67,505.49 L394.15,504.87 L395.64,504.28 L397.16,503.73 L398.70,503.22 L400.26,502.75 L401.83,502.33 L403.43,501.94 L405.04,501.59 L406.66,501.27 L408.30,500.98 L409.95,500.72 L411.61,500.48 L413.28,500.26 L414.96,500.06 L416.64,499.88 L418.32,499.70 L420.00,499.54 L421.69,499.38 L423.37,499.22 L425.05,499.06 L426.72,498.91 L428.39,498.74 L430.05,498.57 L431.70,498.38 L433.34,498.18 L434.96,497.97 L436.57,497.73 L438.17,497.47 L439.74,497.18 L441.30,496.86 L442.83,496.51 L444.34,496.13" stroke="#a5a5a5"/>
</g>
<line x1="484" y1="694.5" x2="505" y2="694.5" stroke="#1e8ad6" stroke-width="2.4"/>
<text x="506.4" y="698.5" font-size="10.9" fill="#4a4a4a" textLength="24" lengthAdjust="spacingAndGlyphs">β=20</text>
<line x1="484" y1="715.2" x2="505" y2="715.2" stroke="#f57a1f" stroke-width="2.4"/>
<text x="506.4" y="719.2" font-size="10.9" fill="#4a4a4a" textLength="26.2" lengthAdjust="spacingAndGlyphs">=   30</text>
<line x1="484" y1="735.7" x2="505" y2="735.7" stroke="#a5a5a5" stroke-width="2.4"/>
<text x="506.4" y="739.7" font-size="10.9" fill="#4a4a4a" textLength="26.2" lengthAdjust="spacingAndGlyphs">=   40</text>
</svg></body></html>
